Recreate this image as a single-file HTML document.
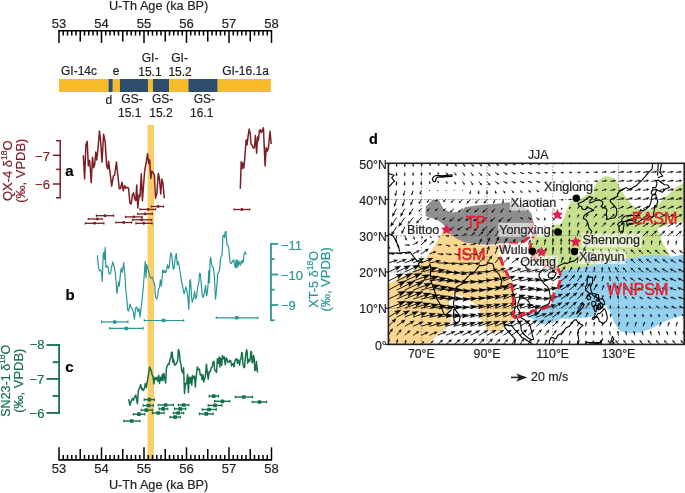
<!DOCTYPE html>
<html><head><meta charset="utf-8"><style>
html,body{margin:0;padding:0;background:#fff;width:685px;height:493px;overflow:hidden}
svg{display:block}

</style></head><body>
<svg width="685" height="493" viewBox="0 0 685 493">
<rect width="685" height="493" fill="#fff"/>
<g fill="#231f20" font-family="'Liberation Sans', Arial, sans-serif">
<rect x="147.6" y="124.9" width="6.4" height="335" fill="#f9cd68"/>
<line x1="58.3" y1="30.75" x2="271.9" y2="30.75" stroke="#000" stroke-width="1.5"/>
<line x1="59" y1="30.2" x2="59" y2="42.9" stroke="#000" stroke-width="1.5"/>
<line x1="63.25" y1="30.2" x2="63.25" y2="35.6" stroke="#000" stroke-width="1.5"/>
<line x1="67.5" y1="30.2" x2="67.5" y2="35.6" stroke="#000" stroke-width="1.5"/>
<line x1="71.75" y1="30.2" x2="71.75" y2="35.6" stroke="#000" stroke-width="1.5"/>
<line x1="76" y1="30.2" x2="76" y2="35.6" stroke="#000" stroke-width="1.5"/>
<line x1="80.25" y1="30.2" x2="80.25" y2="41.4" stroke="#000" stroke-width="1.5"/>
<line x1="84.5" y1="30.2" x2="84.5" y2="35.6" stroke="#000" stroke-width="1.5"/>
<line x1="88.75" y1="30.2" x2="88.75" y2="35.6" stroke="#000" stroke-width="1.5"/>
<line x1="93" y1="30.2" x2="93" y2="35.6" stroke="#000" stroke-width="1.5"/>
<line x1="97.25" y1="30.2" x2="97.25" y2="35.6" stroke="#000" stroke-width="1.5"/>
<line x1="101.5" y1="30.2" x2="101.5" y2="42.9" stroke="#000" stroke-width="1.5"/>
<line x1="105.75" y1="30.2" x2="105.75" y2="35.6" stroke="#000" stroke-width="1.5"/>
<line x1="110" y1="30.2" x2="110" y2="35.6" stroke="#000" stroke-width="1.5"/>
<line x1="114.25" y1="30.2" x2="114.25" y2="35.6" stroke="#000" stroke-width="1.5"/>
<line x1="118.5" y1="30.2" x2="118.5" y2="35.6" stroke="#000" stroke-width="1.5"/>
<line x1="122.75" y1="30.2" x2="122.75" y2="41.4" stroke="#000" stroke-width="1.5"/>
<line x1="127" y1="30.2" x2="127" y2="35.6" stroke="#000" stroke-width="1.5"/>
<line x1="131.25" y1="30.2" x2="131.25" y2="35.6" stroke="#000" stroke-width="1.5"/>
<line x1="135.5" y1="30.2" x2="135.5" y2="35.6" stroke="#000" stroke-width="1.5"/>
<line x1="139.75" y1="30.2" x2="139.75" y2="35.6" stroke="#000" stroke-width="1.5"/>
<line x1="144" y1="30.2" x2="144" y2="42.9" stroke="#000" stroke-width="1.5"/>
<line x1="148.25" y1="30.2" x2="148.25" y2="35.6" stroke="#000" stroke-width="1.5"/>
<line x1="152.5" y1="30.2" x2="152.5" y2="35.6" stroke="#000" stroke-width="1.5"/>
<line x1="156.75" y1="30.2" x2="156.75" y2="35.6" stroke="#000" stroke-width="1.5"/>
<line x1="161" y1="30.2" x2="161" y2="35.6" stroke="#000" stroke-width="1.5"/>
<line x1="165.25" y1="30.2" x2="165.25" y2="41.4" stroke="#000" stroke-width="1.5"/>
<line x1="169.5" y1="30.2" x2="169.5" y2="35.6" stroke="#000" stroke-width="1.5"/>
<line x1="173.75" y1="30.2" x2="173.75" y2="35.6" stroke="#000" stroke-width="1.5"/>
<line x1="178" y1="30.2" x2="178" y2="35.6" stroke="#000" stroke-width="1.5"/>
<line x1="182.25" y1="30.2" x2="182.25" y2="35.6" stroke="#000" stroke-width="1.5"/>
<line x1="186.5" y1="30.2" x2="186.5" y2="42.9" stroke="#000" stroke-width="1.5"/>
<line x1="190.75" y1="30.2" x2="190.75" y2="35.6" stroke="#000" stroke-width="1.5"/>
<line x1="195" y1="30.2" x2="195" y2="35.6" stroke="#000" stroke-width="1.5"/>
<line x1="199.25" y1="30.2" x2="199.25" y2="35.6" stroke="#000" stroke-width="1.5"/>
<line x1="203.5" y1="30.2" x2="203.5" y2="35.6" stroke="#000" stroke-width="1.5"/>
<line x1="207.75" y1="30.2" x2="207.75" y2="41.4" stroke="#000" stroke-width="1.5"/>
<line x1="212" y1="30.2" x2="212" y2="35.6" stroke="#000" stroke-width="1.5"/>
<line x1="216.25" y1="30.2" x2="216.25" y2="35.6" stroke="#000" stroke-width="1.5"/>
<line x1="220.5" y1="30.2" x2="220.5" y2="35.6" stroke="#000" stroke-width="1.5"/>
<line x1="224.75" y1="30.2" x2="224.75" y2="35.6" stroke="#000" stroke-width="1.5"/>
<line x1="229" y1="30.2" x2="229" y2="42.9" stroke="#000" stroke-width="1.5"/>
<line x1="233.25" y1="30.2" x2="233.25" y2="35.6" stroke="#000" stroke-width="1.5"/>
<line x1="237.5" y1="30.2" x2="237.5" y2="35.6" stroke="#000" stroke-width="1.5"/>
<line x1="241.75" y1="30.2" x2="241.75" y2="35.6" stroke="#000" stroke-width="1.5"/>
<line x1="246" y1="30.2" x2="246" y2="35.6" stroke="#000" stroke-width="1.5"/>
<line x1="250.25" y1="30.2" x2="250.25" y2="41.4" stroke="#000" stroke-width="1.5"/>
<line x1="254.5" y1="30.2" x2="254.5" y2="35.6" stroke="#000" stroke-width="1.5"/>
<line x1="258.75" y1="30.2" x2="258.75" y2="35.6" stroke="#000" stroke-width="1.5"/>
<line x1="263" y1="30.2" x2="263" y2="35.6" stroke="#000" stroke-width="1.5"/>
<line x1="267.25" y1="30.2" x2="267.25" y2="35.6" stroke="#000" stroke-width="1.5"/>
<line x1="271.5" y1="30.2" x2="271.5" y2="42.9" stroke="#000" stroke-width="1.5"/>
<text x="59" y="27.7" font-size="13" text-anchor="middle" stroke="#231f20" stroke-width="0.2">53</text>
<text x="101.5" y="27.7" font-size="13" text-anchor="middle" stroke="#231f20" stroke-width="0.2">54</text>
<text x="144" y="27.7" font-size="13" text-anchor="middle" stroke="#231f20" stroke-width="0.2">55</text>
<text x="186.5" y="27.7" font-size="13" text-anchor="middle" stroke="#231f20" stroke-width="0.2">56</text>
<text x="229" y="27.7" font-size="13" text-anchor="middle" stroke="#231f20" stroke-width="0.2">57</text>
<text x="271.5" y="27.7" font-size="13" text-anchor="middle" stroke="#231f20" stroke-width="0.2">58</text>
<text x="158.6" y="9.5" font-size="12.7" text-anchor="middle" stroke="#231f20" stroke-width="0.2">U-Th Age (ka BP)</text>
<line x1="58.3" y1="459.8" x2="271.9" y2="459.8" stroke="#000" stroke-width="1.7"/>
<line x1="59" y1="460.3" x2="59" y2="447.3" stroke="#000" stroke-width="1.5"/>
<line x1="63.25" y1="460.3" x2="63.25" y2="454.9" stroke="#000" stroke-width="1.5"/>
<line x1="67.5" y1="460.3" x2="67.5" y2="454.9" stroke="#000" stroke-width="1.5"/>
<line x1="71.75" y1="460.3" x2="71.75" y2="454.9" stroke="#000" stroke-width="1.5"/>
<line x1="76" y1="460.3" x2="76" y2="454.9" stroke="#000" stroke-width="1.5"/>
<line x1="80.25" y1="460.3" x2="80.25" y2="449.1" stroke="#000" stroke-width="1.5"/>
<line x1="84.5" y1="460.3" x2="84.5" y2="454.9" stroke="#000" stroke-width="1.5"/>
<line x1="88.75" y1="460.3" x2="88.75" y2="454.9" stroke="#000" stroke-width="1.5"/>
<line x1="93" y1="460.3" x2="93" y2="454.9" stroke="#000" stroke-width="1.5"/>
<line x1="97.25" y1="460.3" x2="97.25" y2="454.9" stroke="#000" stroke-width="1.5"/>
<line x1="101.5" y1="460.3" x2="101.5" y2="447.3" stroke="#000" stroke-width="1.5"/>
<line x1="105.75" y1="460.3" x2="105.75" y2="454.9" stroke="#000" stroke-width="1.5"/>
<line x1="110" y1="460.3" x2="110" y2="454.9" stroke="#000" stroke-width="1.5"/>
<line x1="114.25" y1="460.3" x2="114.25" y2="454.9" stroke="#000" stroke-width="1.5"/>
<line x1="118.5" y1="460.3" x2="118.5" y2="454.9" stroke="#000" stroke-width="1.5"/>
<line x1="122.75" y1="460.3" x2="122.75" y2="449.1" stroke="#000" stroke-width="1.5"/>
<line x1="127" y1="460.3" x2="127" y2="454.9" stroke="#000" stroke-width="1.5"/>
<line x1="131.25" y1="460.3" x2="131.25" y2="454.9" stroke="#000" stroke-width="1.5"/>
<line x1="135.5" y1="460.3" x2="135.5" y2="454.9" stroke="#000" stroke-width="1.5"/>
<line x1="139.75" y1="460.3" x2="139.75" y2="454.9" stroke="#000" stroke-width="1.5"/>
<line x1="144" y1="460.3" x2="144" y2="447.3" stroke="#000" stroke-width="1.5"/>
<line x1="148.25" y1="460.3" x2="148.25" y2="454.9" stroke="#000" stroke-width="1.5"/>
<line x1="152.5" y1="460.3" x2="152.5" y2="454.9" stroke="#000" stroke-width="1.5"/>
<line x1="156.75" y1="460.3" x2="156.75" y2="454.9" stroke="#000" stroke-width="1.5"/>
<line x1="161" y1="460.3" x2="161" y2="454.9" stroke="#000" stroke-width="1.5"/>
<line x1="165.25" y1="460.3" x2="165.25" y2="449.1" stroke="#000" stroke-width="1.5"/>
<line x1="169.5" y1="460.3" x2="169.5" y2="454.9" stroke="#000" stroke-width="1.5"/>
<line x1="173.75" y1="460.3" x2="173.75" y2="454.9" stroke="#000" stroke-width="1.5"/>
<line x1="178" y1="460.3" x2="178" y2="454.9" stroke="#000" stroke-width="1.5"/>
<line x1="182.25" y1="460.3" x2="182.25" y2="454.9" stroke="#000" stroke-width="1.5"/>
<line x1="186.5" y1="460.3" x2="186.5" y2="447.3" stroke="#000" stroke-width="1.5"/>
<line x1="190.75" y1="460.3" x2="190.75" y2="454.9" stroke="#000" stroke-width="1.5"/>
<line x1="195" y1="460.3" x2="195" y2="454.9" stroke="#000" stroke-width="1.5"/>
<line x1="199.25" y1="460.3" x2="199.25" y2="454.9" stroke="#000" stroke-width="1.5"/>
<line x1="203.5" y1="460.3" x2="203.5" y2="454.9" stroke="#000" stroke-width="1.5"/>
<line x1="207.75" y1="460.3" x2="207.75" y2="449.1" stroke="#000" stroke-width="1.5"/>
<line x1="212" y1="460.3" x2="212" y2="454.9" stroke="#000" stroke-width="1.5"/>
<line x1="216.25" y1="460.3" x2="216.25" y2="454.9" stroke="#000" stroke-width="1.5"/>
<line x1="220.5" y1="460.3" x2="220.5" y2="454.9" stroke="#000" stroke-width="1.5"/>
<line x1="224.75" y1="460.3" x2="224.75" y2="454.9" stroke="#000" stroke-width="1.5"/>
<line x1="229" y1="460.3" x2="229" y2="447.3" stroke="#000" stroke-width="1.5"/>
<line x1="233.25" y1="460.3" x2="233.25" y2="454.9" stroke="#000" stroke-width="1.5"/>
<line x1="237.5" y1="460.3" x2="237.5" y2="454.9" stroke="#000" stroke-width="1.5"/>
<line x1="241.75" y1="460.3" x2="241.75" y2="454.9" stroke="#000" stroke-width="1.5"/>
<line x1="246" y1="460.3" x2="246" y2="454.9" stroke="#000" stroke-width="1.5"/>
<line x1="250.25" y1="460.3" x2="250.25" y2="449.1" stroke="#000" stroke-width="1.5"/>
<line x1="254.5" y1="460.3" x2="254.5" y2="454.9" stroke="#000" stroke-width="1.5"/>
<line x1="258.75" y1="460.3" x2="258.75" y2="454.9" stroke="#000" stroke-width="1.5"/>
<line x1="263" y1="460.3" x2="263" y2="454.9" stroke="#000" stroke-width="1.5"/>
<line x1="267.25" y1="460.3" x2="267.25" y2="454.9" stroke="#000" stroke-width="1.5"/>
<line x1="271.5" y1="460.3" x2="271.5" y2="447.3" stroke="#000" stroke-width="1.5"/>
<text x="59" y="473" font-size="13" text-anchor="middle" stroke="#231f20" stroke-width="0.2">53</text>
<text x="101.5" y="473" font-size="13" text-anchor="middle" stroke="#231f20" stroke-width="0.2">54</text>
<text x="144" y="473" font-size="13" text-anchor="middle" stroke="#231f20" stroke-width="0.2">55</text>
<text x="186.5" y="473" font-size="13" text-anchor="middle" stroke="#231f20" stroke-width="0.2">56</text>
<text x="229" y="473" font-size="13" text-anchor="middle" stroke="#231f20" stroke-width="0.2">57</text>
<text x="271.5" y="473" font-size="13" text-anchor="middle" stroke="#231f20" stroke-width="0.2">58</text>
<text x="158.6" y="489.3" font-size="12.7" text-anchor="middle" stroke="#231f20" stroke-width="0.2">U-Th Age (ka BP)</text>
<rect x="59" y="79" width="49.5" height="13" fill="#f8bb28"/>
<rect x="108.5" y="79" width="4.3" height="13" fill="#2f4e6e"/>
<rect x="112.8" y="79" width="7.1" height="13" fill="#f8bb28"/>
<rect x="119.9" y="79" width="28.3" height="13" fill="#2f4e6e"/>
<rect x="148.2" y="79" width="4.7" height="13" fill="#f8bb28"/>
<rect x="152.9" y="79" width="16.3" height="13" fill="#2f4e6e"/>
<rect x="169.2" y="79" width="19.2" height="13" fill="#f8bb28"/>
<rect x="188.4" y="79" width="29.3" height="13" fill="#2f4e6e"/>
<rect x="217.7" y="79" width="53.2" height="13" fill="#f8bb28"/>
<text x="79.0" y="75.2" font-size="12" text-anchor="middle" stroke="#231f20" stroke-width="0.2">GI-14c</text>
<text x="116.0" y="75.2" font-size="12" text-anchor="middle" stroke="#231f20" stroke-width="0.2">e</text>
<text x="150.1" y="62" font-size="12" text-anchor="middle" stroke="#231f20" stroke-width="0.2">GI-</text>
<text x="149.9" y="76.3" font-size="12" text-anchor="middle" stroke="#231f20" stroke-width="0.2">15.1</text>
<text x="179.6" y="62" font-size="12" text-anchor="middle" stroke="#231f20" stroke-width="0.2">GI-</text>
<text x="180.1" y="76.3" font-size="12" text-anchor="middle" stroke="#231f20" stroke-width="0.2">15.2</text>
<text x="245.5" y="74.9" font-size="12" text-anchor="middle" stroke="#231f20" stroke-width="0.2">GI-16.1a</text>
<text x="108.9" y="104.2" font-size="12" text-anchor="middle" stroke="#231f20" stroke-width="0.2">d</text>
<text x="132.0" y="103" font-size="12" text-anchor="middle" stroke="#231f20" stroke-width="0.2">GS-</text>
<text x="129.7" y="116.9" font-size="12" text-anchor="middle" stroke="#231f20" stroke-width="0.2">15.1</text>
<text x="162.7" y="103" font-size="12" text-anchor="middle" stroke="#231f20" stroke-width="0.2">GS-</text>
<text x="160.9" y="116.9" font-size="12" text-anchor="middle" stroke="#231f20" stroke-width="0.2">15.2</text>
<text x="204.3" y="103" font-size="12" text-anchor="middle" stroke="#231f20" stroke-width="0.2">GS-</text>
<text x="201.8" y="116.9" font-size="12" text-anchor="middle" stroke="#231f20" stroke-width="0.2">16.1</text>
<line x1="60.2" y1="140.7" x2="60.2" y2="197.8" stroke="#7b1e24" stroke-width="1.5"/>
<line x1="56.1" y1="140.7" x2="60.9" y2="140.7" stroke="#7b1e24" stroke-width="1.5"/>
<line x1="52.9" y1="155.3" x2="60.9" y2="155.3" stroke="#7b1e24" stroke-width="1.5"/>
<line x1="56.1" y1="169.4" x2="60.9" y2="169.4" stroke="#7b1e24" stroke-width="1.5"/>
<line x1="52.9" y1="184" x2="60.9" y2="184" stroke="#7b1e24" stroke-width="1.5"/>
<line x1="56.1" y1="197.8" x2="60.9" y2="197.8" stroke="#7b1e24" stroke-width="1.5"/>
<text x="49.9" y="160.7" font-size="13" fill="#7b1e24" text-anchor="end" stroke="#7b1e24" stroke-width="0.2">−7</text>
<text x="49.9" y="189.4" font-size="13" fill="#7b1e24" text-anchor="end" stroke="#7b1e24" stroke-width="0.2">−6</text>
<text transform="translate(11.9,170.7) rotate(-90)" font-size="13" fill="#7b1e24" text-anchor="middle" stroke="#7b1e24" stroke-width="0.2">QX-4 δ<tspan font-size="8.5" dy="-4.8">18</tspan><tspan dy="4.8">O</tspan></text>
<text transform="translate(24.8,170.7) rotate(-90)" font-size="13" fill="#7b1e24" text-anchor="middle" stroke="#7b1e24" stroke-width="0.2">(‰, VPDB)</text>
<text x="65.2" y="175.5" font-size="15" font-weight="bold" fill="#000" stroke="#000" stroke-width="0.2">a</text>
<path d="M83.3,155.3 L84.6,178.9 L85.9,144.7 L87.2,141.4 L88.3,165.8 L89.6,160.3 L91.2,182.6 L92.5,157.2 L93.6,167.8 L94.7,164.5 L95.8,152 L96.7,159.9 L97.8,150.7 L99.5,130.9 L100.7,142.1 L102,162.3 L103.6,134.3 L105.2,142.2 L106.6,165.5 L107.8,169 L108.6,161.2 L111.7,186.2 L113.4,175.9 L114.7,175 L116.4,162 L119.3,188.8 L120.5,188.5 L122,182.2 L123.3,190.8 L124.6,185.5 L125.9,188.2 L127.2,187.5 L128.6,188.2 L129.9,203.3 L131.2,204 L132.5,194.7 L133.6,192.8 L134.7,198.7 L135.8,200.7 L136.7,184.9 L137.8,207.9 L139.1,194.7 L140,196.7 L141.3,173.7 L142.4,200.7 L143.4,187.5 L144.7,170.5 L146.1,163 L147.5,153.8 L148.7,163.5 L149.7,160 L150.8,178.4 L151.8,171.3 L153.2,172.7 L154.4,175.5 L155.5,198.3 L156.9,193.3 L158.3,173.4 L159.3,177.7 L160.8,194 L161.8,179.1 L162.9,182.6 L164.3,198.3" fill="none" stroke="#7b1e24" stroke-width="1.5" stroke-linejoin="round"/>
<path d="M240.3,188.7 L241.2,161.7 L242,168.8 L242.8,163.1 L243.8,168.1 L244.8,157.5 L246.2,139.7 L247.1,144.7 L248.1,136.2 L249.2,129.1 L250.2,133.3 L251,144 L252.3,145.4 L253.3,148.2 L254.4,147.5 L255.4,135.5 L256.6,153.2 L257.6,136.9 L258.4,140.4 L259.4,130.5 L260.4,129.8 L261.2,132.6 L262.2,131.2 L263.4,127.7 L265.1,166 L266.2,147.5 L267.2,151.1 L268.3,149 L270,131.2 L271.2,144" fill="none" stroke="#7b1e24" stroke-width="1.5" stroke-linejoin="round"/>
<line x1="96.4" y1="215.7" x2="113.6" y2="215.7" stroke="#7b1e24" stroke-width="1.3"/>
<line x1="96.4" y1="214.6" x2="96.4" y2="216.79999999999998" stroke="#7b1e24" stroke-width="1.2"/>
<line x1="113.6" y1="214.6" x2="113.6" y2="216.79999999999998" stroke="#7b1e24" stroke-width="1.2"/>
<circle cx="105" cy="215.7" r="1.45" fill="#7b1e24"/>
<line x1="88.3" y1="219" x2="102.2" y2="219" stroke="#7b1e24" stroke-width="1.3"/>
<line x1="88.3" y1="217.9" x2="88.3" y2="220.1" stroke="#7b1e24" stroke-width="1.2"/>
<line x1="102.2" y1="217.9" x2="102.2" y2="220.1" stroke="#7b1e24" stroke-width="1.2"/>
<circle cx="97.3" cy="219" r="1.45" fill="#7b1e24"/>
<line x1="85.3" y1="223.3" x2="103.9" y2="223.3" stroke="#7b1e24" stroke-width="1.3"/>
<line x1="85.3" y1="222.20000000000002" x2="85.3" y2="224.4" stroke="#7b1e24" stroke-width="1.2"/>
<line x1="103.9" y1="222.20000000000002" x2="103.9" y2="224.4" stroke="#7b1e24" stroke-width="1.2"/>
<circle cx="94.6" cy="223.3" r="1.45" fill="#7b1e24"/>
<line x1="151.4" y1="206.5" x2="163.6" y2="206.5" stroke="#7b1e24" stroke-width="1.3"/>
<line x1="151.4" y1="205.4" x2="151.4" y2="207.6" stroke="#7b1e24" stroke-width="1.2"/>
<line x1="163.6" y1="205.4" x2="163.6" y2="207.6" stroke="#7b1e24" stroke-width="1.2"/>
<circle cx="158.1" cy="206.5" r="1.45" fill="#7b1e24"/>
<line x1="139.9" y1="209.4" x2="155.6" y2="209.4" stroke="#7b1e24" stroke-width="1.3"/>
<line x1="139.9" y1="208.3" x2="139.9" y2="210.5" stroke="#7b1e24" stroke-width="1.2"/>
<line x1="155.6" y1="208.3" x2="155.6" y2="210.5" stroke="#7b1e24" stroke-width="1.2"/>
<circle cx="148" cy="209.4" r="1.45" fill="#7b1e24"/>
<line x1="137.6" y1="213.9" x2="152.4" y2="213.9" stroke="#7b1e24" stroke-width="1.3"/>
<line x1="137.6" y1="212.8" x2="137.6" y2="215.0" stroke="#7b1e24" stroke-width="1.2"/>
<line x1="152.4" y1="212.8" x2="152.4" y2="215.0" stroke="#7b1e24" stroke-width="1.2"/>
<circle cx="145.2" cy="213.9" r="1.45" fill="#7b1e24"/>
<line x1="125.4" y1="216.9" x2="142.1" y2="216.9" stroke="#7b1e24" stroke-width="1.3"/>
<line x1="125.4" y1="215.8" x2="125.4" y2="218.0" stroke="#7b1e24" stroke-width="1.2"/>
<line x1="142.1" y1="215.8" x2="142.1" y2="218.0" stroke="#7b1e24" stroke-width="1.2"/>
<circle cx="133.8" cy="216.9" r="1.45" fill="#7b1e24"/>
<line x1="132.4" y1="219.8" x2="151.7" y2="219.8" stroke="#7b1e24" stroke-width="1.3"/>
<line x1="132.4" y1="218.70000000000002" x2="132.4" y2="220.9" stroke="#7b1e24" stroke-width="1.2"/>
<line x1="151.7" y1="218.70000000000002" x2="151.7" y2="220.9" stroke="#7b1e24" stroke-width="1.2"/>
<circle cx="141.7" cy="219.8" r="1.45" fill="#7b1e24"/>
<line x1="115.8" y1="222.5" x2="131.6" y2="222.5" stroke="#7b1e24" stroke-width="1.3"/>
<line x1="115.8" y1="221.4" x2="115.8" y2="223.6" stroke="#7b1e24" stroke-width="1.2"/>
<line x1="131.6" y1="221.4" x2="131.6" y2="223.6" stroke="#7b1e24" stroke-width="1.2"/>
<circle cx="123.7" cy="222.5" r="1.45" fill="#7b1e24"/>
<line x1="135.9" y1="223.3" x2="152.1" y2="223.3" stroke="#7b1e24" stroke-width="1.3"/>
<line x1="135.9" y1="222.20000000000002" x2="135.9" y2="224.4" stroke="#7b1e24" stroke-width="1.2"/>
<line x1="152.1" y1="222.20000000000002" x2="152.1" y2="224.4" stroke="#7b1e24" stroke-width="1.2"/>
<circle cx="143.8" cy="223.3" r="1.45" fill="#7b1e24"/>
<line x1="234" y1="209.5" x2="249.9" y2="209.5" stroke="#7b1e24" stroke-width="1.3"/>
<line x1="234" y1="208.4" x2="234" y2="210.6" stroke="#7b1e24" stroke-width="1.2"/>
<line x1="249.9" y1="208.4" x2="249.9" y2="210.6" stroke="#7b1e24" stroke-width="1.2"/>
<circle cx="241.9" cy="209.5" r="1.45" fill="#7b1e24"/>
<line x1="271" y1="243.8" x2="271" y2="320.3" stroke="#2a9797" stroke-width="1.8"/>
<line x1="270.2" y1="243.8" x2="278.2" y2="243.8" stroke="#2a9797" stroke-width="1.8"/>
<line x1="270.2" y1="259.1" x2="274.5" y2="259.1" stroke="#2a9797" stroke-width="1.8"/>
<line x1="270.2" y1="274.5" x2="278.2" y2="274.5" stroke="#2a9797" stroke-width="1.8"/>
<line x1="270.2" y1="289.7" x2="274.5" y2="289.7" stroke="#2a9797" stroke-width="1.8"/>
<line x1="270.2" y1="305" x2="278.2" y2="305" stroke="#2a9797" stroke-width="1.8"/>
<line x1="270.2" y1="320.3" x2="274.5" y2="320.3" stroke="#2a9797" stroke-width="1.8"/>
<text x="281.0" y="249.7" font-size="13" fill="#2a9797" stroke="#2a9797" stroke-width="0.2">−11</text>
<text x="281.0" y="279.9" font-size="13" fill="#2a9797" stroke="#2a9797" stroke-width="0.2">−10</text>
<text x="281.0" y="310.2" font-size="13" fill="#2a9797" stroke="#2a9797" stroke-width="0.2">−9</text>
<text transform="translate(317.6,279.3) rotate(-90)" font-size="12.7" fill="#2a9797" text-anchor="middle" stroke="#2a9797" stroke-width="0.2">XT-5 δ<tspan font-size="8.5" dy="-4.8">18</tspan><tspan dy="4.8">O</tspan></text>
<text transform="translate(330.4,279.3) rotate(-90)" font-size="13" fill="#2a9797" text-anchor="middle" stroke="#2a9797" stroke-width="0.2">(‰, VPDB)</text>
<text x="65.4" y="299.8" font-size="15" font-weight="bold" fill="#000" stroke="#000" stroke-width="0.2">b</text>
<path d="M97.4,255.4 L98.6,268.4 L99.5,270.8 L100.7,270 L101.5,272.4 L102.3,281.3 L103.1,254.6 L103.9,252.2 L104.4,259.4 L105.2,247.3 L105.9,267.6 L106.8,265.9 L108,266.7 L109.1,274 L110.4,274 L111.5,267.6 L112.8,261.9 L114.1,266.7 L115.3,272.4 L116.9,293.5 L118.5,282.1 L119.3,286.2 L120.6,271.6 L121.3,268.4 L122.2,272.4 L123.8,262.7 L125,275.7 L125.8,290 L126.8,298.7 L127.7,310.1 L128.8,310.9 L129.9,304 L131.1,307.8 L132.3,308.6 L133.4,312.4 L134.4,319.3 L135.7,307.8 L136.9,307.1 L137.9,311.6 L139,308.6 L139.9,317 L141.7,303.3 L143.3,287.3 L144.5,271.3 L145.2,261.4 L146,277.4 L146.6,264.5 L147.8,268.3 L149,272.8 L150.1,276.6 L151.2,278.2 L152.4,277.4 L153.5,281.2 L154.7,285 L155.4,295.7 L156.4,299.2 L157.4,297.8 L158.5,289 L159.5,287.6 L160.4,279.8 L161.4,286.1 L162.8,269.8 L163.8,272.7 L164.6,270.5 L165.6,272.7 L166.3,271.2 L167.5,264.9 L168.5,268.4 L169.2,267 L170.6,252.8 L171.7,254.9 L173.2,269.1 L174.1,268.4 L175.1,258.5 L176.3,253.5 L177.3,264.9 L178.1,261.3 L179.1,265.6 L180.2,272.7 L181.7,281.9 L183.1,289 L184.1,293.9 L185.1,290.4 L185.9,286.8 L186.9,290.4 L187.9,297.5 L188.8,309.5 L189.8,281.2 L190.5,279.5 L191.5,296.2 L192.2,302.3 L193.4,298.6 L194.6,291.3 L195.5,298.6 L196.3,298 L197.5,288.9 L198.8,282.2 L199.7,273.1 L200.3,273.7 L201.6,287.7 L202.4,296.8 L203.4,296.8 L204.6,291.9 L205.6,285.3 L206.4,295.6 L207,295 L208.2,283.4 L208.8,270.7 L209.5,282.8 L210.1,260.9 L210.7,257.3 L211.6,264.6 L212.5,267 L213.3,267.6 L214.3,275.5 L215.5,299.2 L216.5,290.1 L217.7,274.3 L218.9,271.9 L219.6,269.6 L220.6,258.5 L221.3,256.4 L222.1,255.4 L222.9,235.7 L223.9,235.1 L224.6,237.7 L225.1,232.1 L226,231.6 L226.4,237.7 L227,244.8 L227.7,245.3 L228.7,247.8 L229.4,255.4 L230.2,262.5 L231.2,263.6 L232.4,261.5 L233.8,260 L234.8,265.6 L235.3,267.6 L236.1,260 L236.8,267.6 L237.3,260 L238.1,266.1 L238.8,261 L239.6,263.6 L240.4,265.1 L241.2,261 L241.9,263 L242.6,260.5 L243.2,262.5 L243.9,254.9 L244.9,251.9 L245.9,253.9 L246.7,254.4" fill="none" stroke="#2a9797" stroke-width="1.2" stroke-linejoin="round"/>
<line x1="101.6" y1="321.9" x2="127.9" y2="321.9" stroke="#2a9797" stroke-width="1.2"/>
<line x1="101.6" y1="320.59999999999997" x2="101.6" y2="323.2" stroke="#2a9797" stroke-width="1.2"/>
<line x1="127.9" y1="320.59999999999997" x2="127.9" y2="323.2" stroke="#2a9797" stroke-width="1.2"/>
<rect x="112.95" y="320.15" width="3.5" height="3.5" rx="0.6" fill="#2a9797"/>
<line x1="109.7" y1="328.4" x2="143" y2="328.4" stroke="#2a9797" stroke-width="1.2"/>
<line x1="109.7" y1="327.09999999999997" x2="109.7" y2="329.7" stroke="#2a9797" stroke-width="1.2"/>
<line x1="143" y1="327.09999999999997" x2="143" y2="329.7" stroke="#2a9797" stroke-width="1.2"/>
<rect x="124.55" y="326.65" width="3.5" height="3.5" rx="0.6" fill="#2a9797"/>
<line x1="144.3" y1="320.5" x2="183.7" y2="320.5" stroke="#2a9797" stroke-width="1.2"/>
<line x1="144.3" y1="319.2" x2="144.3" y2="321.8" stroke="#2a9797" stroke-width="1.2"/>
<line x1="183.7" y1="319.2" x2="183.7" y2="321.8" stroke="#2a9797" stroke-width="1.2"/>
<rect x="161.85" y="318.75" width="3.5" height="3.5" rx="0.6" fill="#2a9797"/>
<line x1="216.3" y1="317.8" x2="257.8" y2="317.8" stroke="#2a9797" stroke-width="1.2"/>
<line x1="216.3" y1="316.5" x2="216.3" y2="319.1" stroke="#2a9797" stroke-width="1.2"/>
<line x1="257.8" y1="316.5" x2="257.8" y2="319.1" stroke="#2a9797" stroke-width="1.2"/>
<rect x="235.05" y="316.05" width="3.5" height="3.5" rx="0.6" fill="#2a9797"/>
<line x1="59.1" y1="344.3" x2="59.1" y2="413.6" stroke="#16704a" stroke-width="1.8"/>
<line x1="46.5" y1="345" x2="60" y2="345" stroke="#16704a" stroke-width="1.8"/>
<line x1="52.6" y1="362.2" x2="60" y2="362.2" stroke="#16704a" stroke-width="1.8"/>
<line x1="46.5" y1="378.9" x2="60" y2="378.9" stroke="#16704a" stroke-width="1.8"/>
<line x1="52.6" y1="395.9" x2="60" y2="395.9" stroke="#16704a" stroke-width="1.8"/>
<line x1="46.5" y1="412.9" x2="60" y2="412.9" stroke="#16704a" stroke-width="1.8"/>
<text x="44.5" y="348.9" font-size="13" fill="#16704a" text-anchor="end" stroke="#16704a" stroke-width="0.2">−8</text>
<text x="44.3" y="383.5" font-size="13" fill="#16704a" text-anchor="end" stroke="#16704a" stroke-width="0.2">−7</text>
<text x="44.4" y="418.3" font-size="13" fill="#16704a" text-anchor="end" stroke="#16704a" stroke-width="0.2">−6</text>
<text transform="translate(10.0,380.7) rotate(-90)" font-size="12.5" fill="#16704a" text-anchor="middle" stroke="#16704a" stroke-width="0.2">SN23-1 δ<tspan font-size="8.5" dy="-4.8">18</tspan><tspan dy="4.8">O</tspan></text>
<text transform="translate(23,380.7) rotate(-90)" font-size="13" fill="#16704a" text-anchor="middle" stroke="#16704a" stroke-width="0.2">(‰, VPDB)</text>
<text x="65.2" y="371.8" font-size="15" font-weight="bold" fill="#000" stroke="#000" stroke-width="0.2">c</text>
<path d="M128.6,399.1 L129.9,405.2 L131.1,401.6 L132.3,398.6 L133.3,400.1 L134.3,397.6 L135.7,395 L136.4,398.6 L137.4,403.7 L138.4,390.5 L139.4,388.4 L140.7,384.4 L141.8,389.4 L142.5,388.4 L143.3,390.5 L144.5,388.4 L145.3,383.4 L146.3,387.4 L147.5,380.3 L148.6,374.2 L149.6,367.1 L150.4,369.1 L151.2,370.2 L151.9,374.2 L152.9,376.2 L153.9,383.9 L154.9,377.3 L156,379.8 L157,377.3 L158,381.3 L158.7,375.2 L159.5,383.4 L160.5,377.3 L161.5,380.3 L162.3,374.5 L162.8,380.7 L163.9,373.4 L164.7,378.4 L165.6,382.9 L166.5,367.8 L167.6,365.1 L168.4,363.9 L169.1,364.5 L170,358.9 L170.8,358.4 L171.5,352.2 L172.3,352.2 L172.8,362.3 L173.6,359.5 L174.5,365.1 L175.6,364.5 L176.7,362.8 L177.6,360.6 L178.4,349.5 L179.2,351.7 L180.1,360.6 L180.9,364.5 L181.7,370.6 L182.8,372.9 L183.6,367.8 L184.5,393.5 L185.4,383.4 L186.5,384 L187.6,374.5 L188.4,392.4 L189.2,377.3 L190.1,382.9 L191,377.3 L191.8,385.1 L192.5,375.6 L193.4,378.4 L194.5,376.2 L195.3,387 L195.9,379.7 L197.3,366.9 L198.5,369.7 L199.4,369.2 L200.3,375.1 L201.2,374.2 L202.1,379.7 L203,374.7 L203.7,382 L204.6,378.8 L205.5,375.1 L206.4,364.2 L207.3,372.4 L208.2,379.2 L209.2,371.5 L210.1,371.9 L211.3,367.8 L212.2,366.9 L213.1,361.9 L214,361.4 L214.6,369.7 L215.5,370.6 L216.5,372.4 L217.4,358.7 L218.3,363.3 L219.2,356.9 L219.8,366.9 L220.8,358.2 L221.7,365.5 L222.4,355.5 L223.3,358.7 L224.2,356.9 L225.3,364.6 L226.2,357.8 L227.1,359.6 L228.1,362.4 L229.2,361.9 L230,360.3 L230.8,361.1 L231.6,366 L232.4,364.4 L233.2,363.6 L234.1,366.8 L234.9,361.1 L235.8,359.1 L236.7,358.7 L237.5,363.2 L238.3,359.9 L239.1,362.7 L239.6,365.2 L240.2,359.9 L241,358.7 L241.8,352.6 L242.3,353 L243,364.4 L243.8,367.2 L244.5,367.6 L245,361.9 L245.8,354.2 L246.7,349.7 L247.2,352.2 L247.7,363.2 L248.5,359.5 L249.3,361.5 L250.1,359.9 L251,351.4 L251.5,351.8 L252.1,362.7 L252.7,361.9 L253.6,355.4 L254.2,358.7 L254.8,370.5 L255.6,370.1 L256.4,361.5 L257.2,369.2 L257.6,372.5" fill="none" stroke="#16704a" stroke-width="1.5" stroke-linejoin="round"/>
<line x1="144.2" y1="399.6" x2="154.5" y2="399.6" stroke="#16704a" stroke-width="1.4"/>
<line x1="144.2" y1="398.3" x2="144.2" y2="400.90000000000003" stroke="#16704a" stroke-width="1.2"/>
<line x1="154.5" y1="398.3" x2="154.5" y2="400.90000000000003" stroke="#16704a" stroke-width="1.2"/>
<rect x="147.35" y="397.75" width="3.7" height="3.7" rx="0.6" fill="#16704a"/>
<line x1="143.3" y1="405.5" x2="153.5" y2="405.5" stroke="#16704a" stroke-width="1.4"/>
<line x1="143.3" y1="404.2" x2="143.3" y2="406.8" stroke="#16704a" stroke-width="1.2"/>
<line x1="153.5" y1="404.2" x2="153.5" y2="406.8" stroke="#16704a" stroke-width="1.2"/>
<rect x="146.65" y="403.65" width="3.7" height="3.7" rx="0.6" fill="#16704a"/>
<line x1="141.3" y1="410.1" x2="152.4" y2="410.1" stroke="#16704a" stroke-width="1.4"/>
<line x1="141.3" y1="408.8" x2="141.3" y2="411.40000000000003" stroke="#16704a" stroke-width="1.2"/>
<line x1="152.4" y1="408.8" x2="152.4" y2="411.40000000000003" stroke="#16704a" stroke-width="1.2"/>
<rect x="144.45000000000002" y="408.25" width="3.7" height="3.7" rx="0.6" fill="#16704a"/>
<line x1="133.3" y1="414.2" x2="144.8" y2="414.2" stroke="#16704a" stroke-width="1.4"/>
<line x1="133.3" y1="412.9" x2="133.3" y2="415.5" stroke="#16704a" stroke-width="1.2"/>
<line x1="144.8" y1="412.9" x2="144.8" y2="415.5" stroke="#16704a" stroke-width="1.2"/>
<rect x="137.05" y="412.34999999999997" width="3.7" height="3.7" rx="0.6" fill="#16704a"/>
<line x1="123.8" y1="421" x2="139.9" y2="421" stroke="#16704a" stroke-width="1.4"/>
<line x1="123.8" y1="419.7" x2="123.8" y2="422.3" stroke="#16704a" stroke-width="1.2"/>
<line x1="139.9" y1="419.7" x2="139.9" y2="422.3" stroke="#16704a" stroke-width="1.2"/>
<rect x="129.85" y="419.15" width="3.7" height="3.7" rx="0.6" fill="#16704a"/>
<line x1="158.2" y1="405" x2="173.4" y2="405" stroke="#16704a" stroke-width="1.4"/>
<line x1="158.2" y1="403.7" x2="158.2" y2="406.3" stroke="#16704a" stroke-width="1.2"/>
<line x1="173.4" y1="403.7" x2="173.4" y2="406.3" stroke="#16704a" stroke-width="1.2"/>
<rect x="163.75" y="403.15" width="3.7" height="3.7" rx="0.6" fill="#16704a"/>
<line x1="159.1" y1="408.9" x2="167.8" y2="408.9" stroke="#16704a" stroke-width="1.4"/>
<line x1="159.1" y1="407.59999999999997" x2="159.1" y2="410.2" stroke="#16704a" stroke-width="1.2"/>
<line x1="167.8" y1="407.59999999999997" x2="167.8" y2="410.2" stroke="#16704a" stroke-width="1.2"/>
<rect x="161.35" y="407.04999999999995" width="3.7" height="3.7" rx="0.6" fill="#16704a"/>
<line x1="152.4" y1="413" x2="164.1" y2="413" stroke="#16704a" stroke-width="1.4"/>
<line x1="152.4" y1="411.7" x2="152.4" y2="414.3" stroke="#16704a" stroke-width="1.2"/>
<line x1="164.1" y1="411.7" x2="164.1" y2="414.3" stroke="#16704a" stroke-width="1.2"/>
<rect x="156.35" y="411.15" width="3.7" height="3.7" rx="0.6" fill="#16704a"/>
<line x1="178.4" y1="405" x2="188.8" y2="405" stroke="#16704a" stroke-width="1.4"/>
<line x1="178.4" y1="403.7" x2="178.4" y2="406.3" stroke="#16704a" stroke-width="1.2"/>
<line x1="188.8" y1="403.7" x2="188.8" y2="406.3" stroke="#16704a" stroke-width="1.2"/>
<rect x="181.85" y="403.15" width="3.7" height="3.7" rx="0.6" fill="#16704a"/>
<line x1="174.6" y1="408.9" x2="185.7" y2="408.9" stroke="#16704a" stroke-width="1.4"/>
<line x1="174.6" y1="407.59999999999997" x2="174.6" y2="410.2" stroke="#16704a" stroke-width="1.2"/>
<line x1="185.7" y1="407.59999999999997" x2="185.7" y2="410.2" stroke="#16704a" stroke-width="1.2"/>
<rect x="178.35" y="407.04999999999995" width="3.7" height="3.7" rx="0.6" fill="#16704a"/>
<line x1="173.4" y1="413" x2="183.7" y2="413" stroke="#16704a" stroke-width="1.4"/>
<line x1="173.4" y1="411.7" x2="173.4" y2="414.3" stroke="#16704a" stroke-width="1.2"/>
<line x1="183.7" y1="411.7" x2="183.7" y2="414.3" stroke="#16704a" stroke-width="1.2"/>
<rect x="176.25" y="411.15" width="3.7" height="3.7" rx="0.6" fill="#16704a"/>
<line x1="169.9" y1="417.1" x2="180.4" y2="417.1" stroke="#16704a" stroke-width="1.4"/>
<line x1="169.9" y1="415.8" x2="169.9" y2="418.40000000000003" stroke="#16704a" stroke-width="1.2"/>
<line x1="180.4" y1="415.8" x2="180.4" y2="418.40000000000003" stroke="#16704a" stroke-width="1.2"/>
<rect x="173.25" y="415.25" width="3.7" height="3.7" rx="0.6" fill="#16704a"/>
<line x1="209.2" y1="396.1" x2="218.4" y2="396.1" stroke="#16704a" stroke-width="1.4"/>
<line x1="209.2" y1="394.8" x2="209.2" y2="397.40000000000003" stroke="#16704a" stroke-width="1.2"/>
<line x1="218.4" y1="394.8" x2="218.4" y2="397.40000000000003" stroke="#16704a" stroke-width="1.2"/>
<rect x="211.85" y="394.25" width="3.7" height="3.7" rx="0.6" fill="#16704a"/>
<line x1="214.6" y1="401.3" x2="229.8" y2="401.3" stroke="#16704a" stroke-width="1.4"/>
<line x1="214.6" y1="400.0" x2="214.6" y2="402.6" stroke="#16704a" stroke-width="1.2"/>
<line x1="229.8" y1="400.0" x2="229.8" y2="402.6" stroke="#16704a" stroke-width="1.2"/>
<rect x="220.55" y="399.45" width="3.7" height="3.7" rx="0.6" fill="#16704a"/>
<line x1="208.2" y1="405.4" x2="221.9" y2="405.4" stroke="#16704a" stroke-width="1.4"/>
<line x1="208.2" y1="404.09999999999997" x2="208.2" y2="406.7" stroke="#16704a" stroke-width="1.2"/>
<line x1="221.9" y1="404.09999999999997" x2="221.9" y2="406.7" stroke="#16704a" stroke-width="1.2"/>
<rect x="213.25" y="403.54999999999995" width="3.7" height="3.7" rx="0.6" fill="#16704a"/>
<line x1="202.2" y1="409.5" x2="216.3" y2="409.5" stroke="#16704a" stroke-width="1.4"/>
<line x1="202.2" y1="408.2" x2="202.2" y2="410.8" stroke="#16704a" stroke-width="1.2"/>
<line x1="216.3" y1="408.2" x2="216.3" y2="410.8" stroke="#16704a" stroke-width="1.2"/>
<rect x="207.15" y="407.65" width="3.7" height="3.7" rx="0.6" fill="#16704a"/>
<line x1="199.4" y1="413.9" x2="213.1" y2="413.9" stroke="#16704a" stroke-width="1.4"/>
<line x1="199.4" y1="412.59999999999997" x2="199.4" y2="415.2" stroke="#16704a" stroke-width="1.2"/>
<line x1="213.1" y1="412.59999999999997" x2="213.1" y2="415.2" stroke="#16704a" stroke-width="1.2"/>
<rect x="204.45000000000002" y="412.04999999999995" width="3.7" height="3.7" rx="0.6" fill="#16704a"/>
<line x1="235.3" y1="397" x2="252.6" y2="397" stroke="#16704a" stroke-width="1.4"/>
<line x1="235.3" y1="395.7" x2="235.3" y2="398.3" stroke="#16704a" stroke-width="1.2"/>
<line x1="252.6" y1="395.7" x2="252.6" y2="398.3" stroke="#16704a" stroke-width="1.2"/>
<rect x="241.95000000000002" y="395.15" width="3.7" height="3.7" rx="0.6" fill="#16704a"/>
<line x1="252.2" y1="402" x2="266.6" y2="402" stroke="#16704a" stroke-width="1.4"/>
<line x1="252.2" y1="400.7" x2="252.2" y2="403.3" stroke="#16704a" stroke-width="1.2"/>
<line x1="266.6" y1="400.7" x2="266.6" y2="403.3" stroke="#16704a" stroke-width="1.2"/>
<rect x="257.65" y="400.15" width="3.7" height="3.7" rx="0.6" fill="#16704a"/>
<defs><clipPath id="mc"><rect x="388.4" y="163.3" width="295.8" height="181.1"/></clipPath></defs>
<g clip-path="url(#mc)">
<path d="M443.0,230.0 L449.8,233.0 L455.0,237.3 L466.0,241.8 L477.0,244.5 L485.0,245.7 L497.0,245.0 L505.0,243.5 L501.0,252.0 L501.0,259.0 L504.0,266.0 L507.5,274.0 L511.0,282.0 L513.0,292.0 L514.0,302.0 L514.5,312.0 L514.5,318.0 L510.4,321.1 L505.3,325.5 L500.0,331.0 L495.0,332.6 L490.0,331.4 L486.0,328.5 L482.4,322.7 L480.1,318.0 L479.0,309.0 L473.0,302.0 L461.5,296.0 L454.0,294.6 L449.0,299.0 L449.8,309.0 L451.0,322.0 L445.0,329.6 L437.0,335.5 L431.0,341.0 L429.4,344.4 L388.4,344.4 L388.4,284.0 L400.0,277.4 L415.0,270.0 L427.0,257.4 L435.0,245.0 Z" fill="#fad791"/>
<path d="M532.0,236.0 L542.0,234.0 L548.0,230.0 L552.2,225.5 L561.1,223.9 L564.3,217.4 L567.6,207.7 L570.8,201.2 L577.0,200.5 L583.0,197.0 L589.0,193.4 L595.0,185.3 L600.0,179.2 L605.0,176.2 L611.0,177.2 L615.0,179.0 L618.7,184.7 L622.3,192.0 L627.2,199.3 L633.3,206.0 L639.3,209.7 L646.7,210.3 L651.5,208.5 L656.4,205.4 L663.7,199.3 L671.0,192.0 L678.3,186.0 L684.2,183.0 L684.2,221.3 L669.8,223.7 L657.6,228.6 L663.3,244.3 L671.2,256.8 L655.0,256.0 L634.0,258.0 L609.0,263.0 L583.0,268.0 L558.0,272.0 L545.0,265.5 L535.0,258.0 L528.5,252.0 L531.0,243.0 Z" fill="#c7e08f"/>
<path d="M557.9,271.3 L569.7,269.3 L582.8,267.3 L596.0,264.7 L609.0,262.0 L623.6,259.5 L634.0,257.5 L645.0,256.0 L655.0,255.0 L663.0,255.5 L671.0,256.8 L684.2,254.5 L684.2,315.0 L671.0,319.0 L661.0,323.0 L651.0,329.0 L640.6,332.2 L630.4,333.5 L620.0,331.0 L615.0,324.0 L610.0,312.0 L606.0,305.0 L600.0,310.0 L591.0,317.0 L573.8,318.6 L560.9,318.8 L553.2,322.0 L544.3,324.6 L539.1,322.7 L531.5,318.2 L526.0,316.0 L532.0,312.0 L540.3,310.5 L546.4,308.3 L550.2,306.0 L552.5,297.6 L556.3,288.5 L559.4,281.0 L561.0,273.0 Z" fill="#93d1ee"/>
<path d="M425.7,206.4 L432.2,199.9 L438.7,199.9 L443.5,208.8 L448.4,211.2 L452.5,212.5 L460.6,211.2 L465.0,207.3 L476.2,205.6 L487.3,204.5 L498.5,203.4 L509.6,202.3 L518.0,203.5 L524.0,207.0 L527.5,209.5 L531.4,213.4 L533.0,220.7 L532.0,228.5 L528.6,236.3 L525.3,240.8 L518.6,242.4 L509.6,243.0 L498.5,244.1 L487.3,244.7 L476.0,244.1 L465.0,242.5 L457.0,239.0 L451.0,234.5 L446.8,229.1 L444.4,225.8 L441.1,222.6 L436.2,219.4 L430.6,217.7 L425.7,216.1 Z" fill="#8f8d8e"/>
<path d="M388.4,308.2 H684.2 M388.4,272.0 H684.2 M388.4,235.7 H684.2 M388.4,199.5 H684.2 M421.3,163.3 V344.4 M487.0,163.3 V344.4 M552.7,163.3 V344.4 M618.5,163.3 V344.4" stroke="#444" stroke-width="0.8" stroke-dasharray="1 2" fill="none"/>
<path d="M383.5,174.2 L389.1,173.8 L394.0,175.3 L391.7,177.8 L394.6,181.4 L392.3,182.9 L391.0,184.7 L389.1,186.5 L383.5,186.5 M388.4,252.8 L393.7,253.1 L401.5,252.8 L410.1,252.0 L412.1,254.6 L414.7,258.2 L417.3,261.1 L420.0,262.2 L422.3,261.5 L418.3,263.6 L418.6,266.5 L422.9,269.1 L428.5,267.6 L429.8,264.0 L430.8,267.3 L430.5,272.0 L430.5,275.6 L431.1,281.0 L432.8,286.4 L434.4,290.8 L436.1,295.5 L437.0,299.1 L439.3,302.7 L441.0,306.4 L442.6,310.7 L444.3,314.3 L445.9,315.1 L448.2,312.5 L450.8,310.7 L451.8,307.1 L453.8,306.7 L453.5,302.7 L454.8,297.3 L455.1,290.1 L457.4,286.4 L461.7,284.3 L462.4,282.1 L465.6,279.2 L469.9,274.5 L475.5,270.9 L477.1,268.3 L479.8,265.4 L482.1,265.8 L483.7,265.4 L486.3,264.7 L488.6,262.9 L490.9,263.3 L492.9,264.0 L494.2,268.3 L494.6,269.4 L496.9,272.0 L499.5,274.9 L501.8,281.0 L500.8,286.4 L502.8,286.4 L505.1,287.2 L507.7,284.6 L510.7,283.6 L512.3,286.4 L512.6,291.9 L514.3,296.6 L515.6,301.7 L514.9,308.2 L514.3,311.8 L514.6,315.4 L516.3,316.1 L518.2,320.9 L520.9,324.5 L521.2,329.9 L523.2,333.5 L524.8,335.0 L528.1,337.9 L531.4,339.7 L533.7,339.3 L532.4,335.3 L531.0,329.2 L529.7,324.5 L527.1,321.9 L524.1,319.4 L521.2,318.0 L520.5,314.3 L519.5,311.1 L517.2,307.5 L518.2,302.7 L519.5,299.1 L519.9,295.9 L521.5,295.5 L522.8,297.3 L524.8,298.4 L527.4,300.2 L529.1,302.4 L530.4,304.9 L534.3,306.4 L536.0,307.5 L535.6,312.9 L537.0,313.3 L540.2,310.4 L542.2,306.7 L544.5,306.0 L549.1,303.5 L550.4,299.1 L550.1,295.5 L548.8,289.0 L547.1,286.4 L543.9,283.6 L541.2,279.9 L538.9,276.3 L539.3,273.4 L541.6,270.9 L544.5,267.3 L547.8,265.8 L551.1,266.2 L552.1,267.3 L552.4,270.5 L553.7,270.9 L554.4,267.6 L557.7,266.2 L562.6,264.0 L564.6,262.9 L566.9,263.6 L570.8,261.8 L574.1,261.1 L577.4,258.2 L580.7,255.3 L583.3,252.0 L584.3,248.4 L586.6,245.5 L588.9,243.0 L590.9,239.4 L592.2,236.1 L590.5,233.9 L591.8,231.4 L588.9,227.8 L588.6,226.0 L586.6,220.2 L583.3,218.4 L584.0,215.8 L587.2,213.3 L590.9,211.1 L593.8,210.4 L590.5,208.6 L587.9,207.5 L584.9,209.7 L582.0,208.9 L581.7,206.8 L579.0,205.7 L578.0,203.5 L580.7,202.4 L583.3,201.3 L585.6,199.5 L589.2,196.6 L592.8,197.7 L589.9,201.0 L589.9,203.1 L592.8,202.1 L595.1,200.6 L599.4,199.9 L601.4,201.0 L603.0,202.1 L602.4,204.6 L601.0,206.4 L604.0,207.9 L606.0,208.2 L607.0,210.4 L606.3,214.0 L607.0,217.6 L606.3,219.4 L609.6,218.7 L613.2,218.0 L615.2,217.3 L616.5,214.7 L616.8,211.8 L616.5,208.6 L613.9,205.3 L612.9,204.2 L610.3,201.7 L610.3,199.9 L613.5,198.4 L617.5,196.3 L617.5,193.7 L620.4,190.8 L623.4,189.0 L626.4,187.6 L629.0,189.4 L633.3,187.2 L636.5,185.4 L641.5,180.7 L645.4,176.3 L648.0,173.1 L652.0,169.1 L653.0,161.5 M386.8,232.5 L388.4,233.4 L393.2,236.1 L396.0,240.7 L398.7,247.0 L399.6,251.7 M453.8,308.9 L455.1,309.6 L458.1,313.6 L460.1,317.2 L459.4,321.2 L456.1,323.0 L454.1,320.9 L453.5,315.4 L453.8,308.9 M548.1,274.9 L550.1,272.0 L554.4,271.6 L556.0,273.4 L554.4,276.7 L551.4,278.5 L548.5,277.4 L548.1,274.9 M585.9,261.1 L587.9,264.7 L588.9,263.3 L590.5,259.3 L592.2,253.8 L590.5,252.8 L588.9,253.8 L586.3,258.2 L585.9,261.1 M618.5,223.1 L621.4,221.6 L624.1,223.8 L623.1,230.7 L620.4,232.1 L619.1,230.7 L619.1,226.3 L617.5,224.5 L618.5,223.1 M626.7,221.6 L630.0,220.2 L633.6,220.5 L633.9,222.0 L632.3,224.1 L629.3,223.4 L627.0,225.6 L626.7,221.6 M655.9,194.4 L656.3,197.7 L657.9,201.3 L656.6,205.0 L654.6,205.7 L654.3,210.4 L653.3,214.0 L654.3,215.1 L651.3,217.6 L650.7,216.5 L648.7,216.9 L647.4,218.7 L645.4,219.1 L641.5,219.1 L641.1,220.2 L638.8,221.6 L637.5,223.1 L635.6,222.0 L636.2,219.1 L632.3,218.7 L628.3,219.8 L625.0,221.6 L621.8,221.3 L621.8,219.1 L624.7,216.2 L628.3,215.5 L633.3,215.5 L636.5,215.5 L638.2,214.4 L640.8,209.7 L642.5,211.1 L646.4,208.9 L649.4,206.0 L651.0,202.4 L651.3,198.8 L652.3,195.2 L655.9,194.4 M651.3,194.1 L654.6,194.4 L656.9,190.1 L662.2,192.3 L666.1,188.7 L669.4,187.6 L667.8,185.0 L664.5,184.7 L657.9,180.0 L656.6,180.7 L656.9,183.9 L655.9,187.2 L652.7,187.6 L653.0,190.1 L651.3,191.6 L651.3,194.1 M657.9,177.8 L662.8,176.0 L659.9,172.4 L660.9,166.9 L661.9,161.5 M657.6,175.6 L657.9,170.5 L658.2,161.5 M587.6,277.4 L589.9,277.0 L592.8,277.4 L592.5,282.8 L590.5,286.8 L590.9,290.1 L592.2,293.3 L595.5,294.1 L598.4,294.8 L599.1,298.8 L596.4,297.3 L594.1,296.2 L591.5,294.1 L588.6,293.0 L587.6,291.5 L585.9,290.8 L585.3,286.4 L586.9,285.4 L587.6,277.4 M586.9,295.5 L589.5,295.9 L590.9,297.7 L589.5,299.8 L588.2,299.8 L586.9,298.0 L586.9,295.5 M599.4,299.1 L602.0,298.8 L603.4,299.8 L604.3,302.0 L604.7,304.2 L603.4,304.6 L602.0,303.5 L600.7,302.7 L599.4,300.9 L599.4,299.1 M600.1,302.7 L601.7,303.5 L602.7,305.3 L602.7,307.5 L601.7,308.2 L601.0,307.1 L600.1,304.9 L600.1,302.7 M598.1,307.8 L600.1,307.8 L600.7,308.9 L599.1,309.6 L598.1,309.3 L598.1,307.8 M596.8,309.6 L598.4,307.1 L599.1,304.6 L598.7,303.5 L597.8,305.3 L596.4,308.2 L596.8,309.6 M593.5,306.4 L595.5,304.9 L597.1,306.0 L596.4,308.9 L596.1,311.4 L595.1,311.8 L594.1,309.6 L593.5,306.4 M591.8,301.7 L594.1,301.3 L595.8,302.7 L595.1,305.3 L593.8,306.0 L592.5,306.4 L591.8,304.6 L591.8,301.7 M596.1,299.5 L597.8,298.8 L599.1,300.2 L597.4,301.3 L596.1,300.6 L596.1,299.5 M591.8,319.0 L593.2,317.2 L595.1,316.9 L596.8,315.4 L598.1,313.3 L599.7,313.6 L601.4,311.8 L602.7,310.7 L603.7,308.9 L605.0,309.6 L605.7,311.1 L606.6,314.0 L607.3,317.2 L607.0,319.8 L606.0,321.6 L604.0,322.7 L603.4,324.1 L602.0,323.0 L600.7,321.9 L599.1,321.2 L598.7,319.0 L597.4,316.9 L595.5,317.2 L593.8,319.4 L591.8,319.0 M576.4,314.0 L582.3,308.2 L584.3,304.6 L583.0,303.5 L578.4,310.0 L576.4,314.0 M549.4,346.2 L549.4,340.8 L551.4,337.2 L556.0,339.0 L557.7,335.3 L562.6,332.8 L565.9,328.1 L569.2,326.3 L570.8,324.5 L574.1,320.1 L576.4,319.8 L578.0,322.7 L583.0,325.2 L580.0,328.1 L578.4,329.9 L577.7,333.5 L579.0,340.8 L578.4,342.6 L577.4,346.2 M514.9,346.2 L514.9,339.0 L511.7,335.3 L508.4,331.7 L505.1,328.1 L504.4,324.1 L508.4,325.6 L511.7,325.6 L514.3,329.2 L518.6,333.5 L521.5,337.2 L524.8,339.0 L531.4,343.3 L533.0,346.2 M584.9,346.2 L586.6,342.2 L590.5,342.6 L595.5,342.6 L599.7,342.6 L602.7,339.0 L600.4,343.3 L595.5,343.7 L588.9,344.0 L587.2,346.2 M610.3,346.2 L611.2,340.1 L612.6,336.4 L613.9,339.7 L611.9,341.5 L614.2,343.0 L611.9,344.4 L613.2,346.2" stroke="#000" stroke-width="1.1" fill="none" stroke-linejoin="round"/>
<path d="M432.4,178.5 L434.0,176.3 L437.0,175.3 L442.0,175.8 L447.0,175.3 L452.0,174.9 L452.0,176.3 L447.0,176.7 L442.0,177.1 L437.5,177.0 L436.2,178.5 L435.3,181.5 L434.0,182.0 L432.6,180.2 Z" stroke="#000" stroke-width="1.2" fill="#fff" stroke-linejoin="round"/>
<path d="M388.4,344.4 L388.8,340.3 M388.4,335.3 L391.3,330.6 M388.4,326.3 L393.8,320.9 M388.4,317.2 L396.7,312.3 M388.4,308.2 L400.1,303.5 M388.4,299.1 L400.2,293.6 M388.4,290.1 L400.4,283.7 M388.4,281.0 L398.4,276.0 M388.4,272.0 L396.7,268.1 M388.4,262.9 L394.8,260.9 M388.4,253.8 L392.5,253.8 M388.4,244.8 L389.2,247.6 M388.4,235.7 L385.8,241.4 M388.4,226.7 L384.9,232.6 M388.4,217.6 L384.1,223.8 M388.4,208.6 L385.3,214.1 M388.4,199.5 L386.6,204.4 M388.4,190.5 L387.5,194.3 M388.4,181.4 L388.3,184.1 M388.4,172.4 L388.4,174.8 M388.4,163.3 L388.4,165.5 M396.6,344.4 L397.2,340.9 M396.6,335.3 L399.9,331.3 M396.6,326.3 L402.6,321.7 M396.6,317.2 L405.3,312.8 M396.6,308.2 L408.4,303.7 M396.6,299.1 L408.8,293.7 M396.6,290.1 L409.2,283.8 M396.6,281.0 L407.3,275.9 M396.6,272.0 L405.8,267.7 M396.6,262.9 L403.5,260.4 M396.6,253.8 L400.7,253.3 M396.6,244.8 L398.2,246.6 M396.6,235.7 L395.9,240.2 M396.6,226.7 L392.8,232.8 M396.6,217.6 L392.3,223.8 M396.6,208.6 L393.6,214.1 M396.6,199.5 L394.9,204.4 M396.6,190.5 L395.7,194.3 M396.6,181.4 L396.5,184.1 M396.6,172.4 L396.5,174.8 M396.6,163.3 L396.6,165.5 M404.8,344.4 L405.6,341.4 M404.8,335.3 L408.5,332.0 M404.8,326.3 L411.4,322.5 M404.8,317.2 L413.8,313.3 M404.8,308.2 L416.7,303.9 M404.8,299.1 L417.4,293.9 M404.8,290.1 L418.1,283.9 M404.8,281.0 L416.3,275.7 M404.8,272.0 L415.0,267.2 M404.8,262.9 L412.1,259.9 M404.8,253.8 L408.8,252.8 M404.8,244.8 L408.2,245.1 M404.8,235.7 L406.0,238.9 M404.8,226.7 L402.5,231.7 M404.8,217.6 L400.5,223.8 M404.8,208.6 L401.8,214.1 M404.8,199.5 L403.1,204.4 M404.8,190.5 L403.8,194.3 M404.8,181.4 L404.6,184.1 M404.8,172.4 L404.7,174.8 M404.8,163.3 L404.8,165.5 M413.1,344.4 L414.3,341.9 M413.1,335.3 L417.3,332.5 M413.1,326.3 L420.3,323.1 M413.1,317.2 L422.3,314.0 M413.1,308.2 L424.7,304.8 M413.1,299.1 L425.4,295.1 M413.1,290.1 L426.2,285.2 M413.1,281.0 L424.6,276.8 M413.1,272.0 L423.5,268.2 M413.1,262.9 L420.4,259.9 M413.1,253.8 L417.6,251.5 M413.1,244.8 L416.6,242.7 M413.1,235.7 L414.1,238.2 M413.1,226.7 L412.5,230.1 M413.1,217.6 L409.1,222.8 M413.1,208.6 L410.2,213.1 M413.1,199.5 L411.3,203.4 M413.1,190.5 L412.1,193.7 M413.1,181.4 L412.9,183.8 M413.1,172.4 L413.1,174.5 M413.1,163.3 L413.2,165.2 M421.3,344.4 L423.0,342.4 M421.3,335.3 L426.1,333.0 M421.3,326.3 L429.1,323.7 M421.3,317.2 L430.8,314.8 M421.3,308.2 L432.8,305.7 M421.3,299.1 L433.5,296.2 M421.3,290.1 L434.4,286.5 M421.3,281.0 L433.0,277.9 M421.3,272.0 L432.1,269.1 M421.3,262.9 L429.1,259.8 M421.3,253.8 L426.3,250.3 M421.3,244.8 L425.2,240.9 M421.3,235.7 L422.1,237.2 M421.3,226.7 L420.4,229.2 M421.3,217.6 L417.7,221.8 M421.3,208.6 L419.5,210.6 M421.3,199.5 L419.6,202.4 M421.3,190.5 L420.4,193.1 M421.3,181.4 L421.3,183.6 M421.3,172.4 L421.5,174.2 M421.3,163.3 L421.7,164.9 M429.5,344.4 L432.2,341.8 M429.5,335.3 L435.0,332.8 M429.5,326.3 L437.4,324.0 M429.5,317.2 L439.1,315.2 M429.5,308.2 L440.8,306.5 M429.5,299.1 L441.3,297.2 M429.5,290.1 L441.8,287.8 M429.5,281.0 L440.8,279.2 M429.5,272.0 L439.8,270.5 M429.5,262.9 L437.2,261.4 M429.5,253.8 L434.1,252.3 M429.5,244.8 L432.6,242.1 M429.5,235.7 L430.6,236.9 M429.5,226.7 L427.8,228.7 M429.5,217.6 L427.8,219.0 M429.5,208.6 L427.9,210.1 M429.5,199.5 L427.8,201.5 M429.1,190.5 h0.8 M429.5,181.4 L429.7,182.7 M429.5,172.4 L429.9,173.8 M429.5,163.3 L430.1,164.8 M437.7,344.4 L441.4,341.3 M437.7,335.3 L443.9,332.6 M437.7,326.3 L445.9,324.1 M437.7,317.2 L447.4,315.6 M437.7,308.2 L448.8,307.2 M437.7,299.1 L449.2,298.1 M437.7,290.1 L449.5,289.0 M437.7,281.0 L448.5,280.5 M437.7,272.0 L447.6,272.0 M437.7,262.9 L444.9,263.1 M437.7,253.8 L441.8,254.2 M437.7,244.8 L440.4,244.8 M437.7,235.7 L439.2,236.6 M437.7,226.7 L436.0,228.7 M437.7,217.6 L435.9,218.9 M437.7,208.6 L436.0,210.0 M437.7,199.5 L436.3,200.5 M437.3,190.5 h0.8 M437.7,181.4 L438.0,182.0 M437.7,172.4 L438.3,173.4 M437.7,163.3 L438.5,164.7 M445.9,344.4 L449.9,341.1 M445.9,335.3 L452.4,332.5 M445.9,326.3 L454.5,324.0 M445.9,317.2 L455.4,315.6 M445.9,308.2 L456.4,307.3 M445.9,299.1 L456.7,298.6 M445.9,290.1 L457.0,290.0 M445.9,281.0 L456.0,281.4 M445.9,272.0 L455.0,272.7 M445.9,262.9 L452.7,263.6 M445.9,253.8 L450.0,254.4 M445.9,244.8 L448.8,245.9 M445.9,235.7 L447.9,236.0 M445.9,226.7 L444.0,228.6 M445.9,217.6 L443.6,219.0 M445.9,208.6 L444.1,209.8 M445.9,199.5 L444.1,201.1 M445.5,190.5 h0.8 M445.9,181.4 L446.7,182.6 M445.9,172.4 L446.9,173.8 M445.9,163.3 L447.2,165.1 M454.1,344.4 L458.4,340.9 M454.1,335.3 L460.9,332.3 M454.1,326.3 L463.0,323.9 M454.1,317.2 L463.5,315.6 M454.1,308.2 L463.9,307.3 M454.1,299.1 L464.3,299.2 M454.1,290.1 L464.6,291.0 M454.1,281.0 L463.6,282.2 M454.1,272.0 L462.5,273.4 M454.1,262.9 L460.6,264.0 M454.1,253.8 L458.2,254.6 M454.1,244.8 L456.2,245.4 M454.1,235.7 L456.8,235.3 M454.1,226.7 L451.0,229.3 M454.1,217.6 L451.0,220.3 M454.1,208.6 L451.5,211.0 M454.1,199.5 L451.9,201.7 M453.7,190.5 h0.8 M454.1,181.4 L455.4,183.2 M454.1,172.4 L455.6,174.3 M454.1,163.3 L455.9,165.3 M462.4,344.4 L466.4,340.7 M462.4,335.3 L469.0,332.1 M462.4,326.3 L471.2,323.7 M462.4,317.2 L471.5,315.2 M462.4,308.2 L471.8,306.8 M462.4,299.1 L472.1,298.7 M462.4,290.1 L472.5,290.5 M462.4,281.0 L471.5,281.9 M462.4,272.0 L470.5,273.2 M462.4,262.9 L468.8,263.9 M462.4,253.8 L466.8,254.4 M462.4,244.8 L465.0,244.3 M462.4,235.7 L465.3,234.4 M462.4,226.7 L459.0,229.1 M462.4,217.6 L459.0,220.0 M462.4,208.6 L459.5,211.0 M462.4,199.5 L460.0,201.9 M462.0,190.5 h0.8 M462.4,181.4 L463.9,183.6 M462.4,172.4 L464.1,174.5 M462.4,163.3 L464.3,165.4 M470.6,344.4 L474.5,340.5 M470.6,335.3 L477.1,331.9 M470.6,326.3 L479.3,323.4 M470.6,317.2 L479.4,314.9 M470.6,308.2 L479.6,306.3 M470.6,299.1 L480.0,298.2 M470.6,290.1 L480.4,290.1 M470.6,281.0 L479.4,281.6 M470.6,272.0 L478.4,273.1 M470.6,262.9 L477.1,263.7 M470.6,253.8 L475.4,254.3 M470.6,244.8 L474.5,243.9 M470.6,235.7 L473.7,233.6 M470.6,226.7 L467.2,229.1 M470.6,217.6 L467.0,219.7 M470.6,208.6 L467.4,210.9 M470.6,199.5 L467.9,202.2 M470.6,190.5 L470.1,192.9 M470.6,181.4 L472.3,183.9 M470.6,172.4 L472.5,174.7 M470.6,163.3 L472.8,165.5 M478.8,344.4 L482.7,340.5 M478.8,335.3 L485.3,331.8 M478.8,326.3 L487.4,323.1 M478.8,317.2 L487.5,314.5 M478.8,308.2 L487.7,305.8 M478.8,299.1 L488.1,297.4 M478.8,290.1 L488.5,289.0 M478.8,281.0 L487.4,280.3 M478.8,272.0 L486.5,271.6 M478.8,262.9 L483.2,258.5 M478.8,253.8 L481.9,251.4 M478.8,244.8 L480.8,240.4 M478.8,235.7 L481.9,232.8 M478.8,226.7 L475.4,229.6 M478.8,217.6 L475.2,219.9 M478.8,208.6 L475.8,211.1 M478.8,199.5 L476.3,202.2 M478.8,190.5 L478.6,193.0 M478.8,181.4 L480.8,184.0 M478.8,172.4 L480.9,174.7 M478.8,163.3 L481.1,165.4 M487.0,344.4 L490.9,340.5 M487.0,335.3 L493.4,331.6 M487.0,326.3 L495.5,322.8 M487.0,317.2 L495.6,314.1 M487.0,308.2 L495.7,305.3 M487.0,299.1 L496.2,296.7 M487.0,290.1 L496.6,288.0 M487.0,281.0 L495.3,279.1 M487.0,272.0 L494.3,270.0 M487.0,262.9 L490.6,257.8 M487.0,253.8 L488.4,248.5 M487.0,244.8 L488.9,239.6 M487.0,235.7 L490.1,232.1 M487.0,226.7 L483.6,229.6 M487.0,217.6 L483.3,220.2 M487.0,208.6 L484.1,211.2 M487.0,199.5 L484.8,202.1 M487.0,190.5 L487.0,193.0 M487.0,181.4 L489.2,184.0 M487.0,172.4 L489.3,174.7 M487.0,163.3 L489.4,165.3 M495.2,344.4 L498.7,340.6 M495.2,335.3 L501.2,331.6 M495.2,326.3 L503.3,322.8 M495.2,317.2 L503.6,313.9 M495.2,308.2 L503.9,305.0 M495.2,299.1 L504.2,296.1 M495.2,290.1 L504.6,287.2 M495.2,281.0 L503.3,278.3 M495.2,272.0 L502.3,269.4 M495.2,262.9 L499.2,258.2 M495.2,253.8 L497.2,248.4 M495.2,244.8 L497.8,239.2 M495.2,235.7 L498.3,232.1 M495.2,226.7 L492.3,229.6 M495.2,217.6 L491.7,220.3 M495.2,208.6 L492.8,211.3 M495.2,199.5 L493.9,202.2 M495.2,190.5 L495.7,192.6 M495.2,181.4 L497.7,183.4 M495.2,172.4 L497.8,174.2 M495.2,163.3 L497.8,164.9 M503.4,344.4 L506.5,340.7 M503.4,335.3 L509.0,331.6 M503.4,326.3 L511.2,322.7 M503.4,317.2 L511.6,313.7 M503.4,308.2 L512.0,304.7 M503.4,299.1 L512.3,295.6 M503.4,290.1 L512.6,286.4 M503.4,281.0 L511.3,277.6 M503.4,272.0 L510.3,268.8 M503.4,262.9 L507.8,258.5 M503.4,253.8 L506.1,248.2 M503.4,244.8 L506.2,240.0 M503.4,235.7 L506.5,232.1 M503.4,226.7 L500.5,229.6 M503.4,217.6 L500.0,220.5 M503.4,208.6 L501.5,211.4 M503.4,199.5 L503.0,202.2 M503.4,190.5 L504.5,192.2 M503.4,181.4 L506.2,182.7 M503.4,172.4 L506.2,173.7 M503.4,163.3 L506.2,164.6 M511.7,344.4 L514.6,340.6 M511.7,335.3 L516.9,331.5 M511.7,326.3 L518.9,322.5 M511.7,317.2 L519.6,313.9 M511.7,308.2 L520.4,305.3 M511.7,299.1 L520.7,296.4 M511.7,290.1 L521.1,287.5 M511.7,281.0 L519.9,278.5 M511.7,272.0 L519.1,269.3 M511.7,262.9 L516.9,259.3 M511.7,253.8 L514.7,249.3 M511.7,244.8 L514.2,240.8 M511.7,235.7 L513.8,232.3 M511.7,226.7 L509.5,229.3 M511.7,217.6 L508.7,220.3 M511.7,208.6 L510.3,211.0 M511.7,199.5 L511.8,201.6 M511.7,190.5 L513.0,192.0 M511.7,181.4 L514.5,182.6 M511.7,172.4 L514.4,173.5 M511.7,163.3 L514.3,164.4 M519.9,344.4 L522.6,340.5 M519.9,335.3 L524.8,331.3 M519.9,326.3 L526.7,322.3 M519.9,317.2 L527.7,314.1 M519.9,308.2 L528.7,305.8 M519.9,299.1 L529.2,297.2 M519.9,290.1 L529.6,288.7 M519.9,281.0 L528.6,279.3 M519.9,272.0 L527.5,269.9 M519.9,262.9 L525.6,260.1 M519.9,253.8 L523.3,250.4 M519.9,244.8 L522.2,241.5 M519.9,235.7 L521.0,232.6 M519.9,226.7 L518.5,229.0 M519.9,217.6 L521.9,218.4 M519.9,208.6 L519.1,210.5 M519.9,199.5 L520.4,201.1 M519.9,190.5 L521.5,191.8 M519.9,181.4 L522.8,182.5 M519.9,172.4 L522.6,173.4 M519.9,163.3 L522.4,164.2 M528.1,344.4 L530.5,340.6 M528.1,335.3 L532.4,331.3 M528.1,326.3 L534.3,322.0 M528.1,317.2 L535.7,314.3 M528.1,308.2 L536.8,306.6 M528.1,299.1 L537.2,298.0 M528.1,290.1 L537.6,289.4 M528.1,281.0 L536.5,279.7 M528.1,272.0 L535.7,269.9 M528.1,262.9 L533.3,260.1 M528.1,253.8 L530.8,250.4 M528.1,244.8 L529.8,241.4 M528.1,235.7 L528.7,232.4 M528.1,226.7 L528.3,227.0 M528.1,217.6 L530.5,218.8 M528.1,208.6 L527.9,210.0 M528.1,199.5 L528.8,200.7 M528.1,190.5 L529.7,191.5 M528.1,181.4 L530.9,182.3 M528.1,172.4 L530.7,173.2 M528.1,163.3 L530.6,164.1 M536.3,344.4 L538.4,340.8 M536.3,335.3 L540.0,331.3 M536.3,326.3 L541.6,321.9 M536.3,317.2 L543.4,314.6 M536.3,308.2 L544.8,307.4 M536.3,299.1 L545.2,298.8 M536.3,290.1 L545.5,290.1 M536.3,281.0 L544.4,280.1 M536.3,272.0 L543.6,270.0 M536.3,262.9 L541.0,260.1 M536.3,253.8 L538.4,250.3 M536.3,244.8 L537.4,241.3 M536.3,235.7 L536.4,232.4 M536.3,226.7 L536.4,227.0 M536.3,217.6 L538.5,219.2 M536.3,208.6 L536.6,209.7 M536.3,199.5 L537.1,200.4 M536.3,190.5 L537.9,191.3 M536.3,181.4 L538.9,182.1 M536.3,172.4 L538.9,173.0 M536.3,163.3 L538.9,164.0 M544.5,344.4 L546.1,341.0 M544.5,335.3 L547.6,331.6 M544.5,326.3 L549.1,322.1 M544.5,317.2 L550.6,314.0 M544.5,308.2 L552.2,305.8 M544.5,299.1 L552.3,297.1 M544.5,290.1 L552.7,288.4 M544.5,281.0 L551.6,278.7 M544.5,272.0 L550.1,269.0 M544.5,262.9 L547.9,259.3 M544.5,253.8 L545.8,249.7 M544.5,244.8 L545.2,240.8 M544.5,235.7 L544.7,232.0 M544.5,226.7 L544.5,226.6 M544.5,217.6 L544.8,219.1 M544.5,208.6 L545.1,209.6 M544.5,199.5 L545.4,200.2 M544.5,190.5 L546.0,191.1 M544.5,181.4 L546.6,181.9 M544.5,172.4 L546.6,172.8 M544.5,163.3 L546.6,163.8 M552.7,344.4 L553.9,341.2 M552.7,335.3 L555.3,331.8 M552.7,326.3 L556.6,322.4 M552.7,317.2 L557.9,313.3 M552.7,308.2 L559.2,304.2 M552.7,299.1 L559.7,295.4 M552.7,290.1 L559.9,286.7 M552.7,281.0 L558.4,277.3 M552.7,272.0 L556.6,268.1 M552.7,262.9 L554.9,258.6 M552.7,253.8 L553.2,249.1 M552.7,244.8 L553.0,240.3 M552.7,235.7 L552.9,231.6 M552.7,226.7 L553.0,226.2 M552.7,217.6 L553.6,219.1 M552.7,208.6 L553.7,209.5 M552.7,199.5 L553.8,200.1 M552.7,190.5 L554.0,190.9 M552.7,181.4 L554.4,181.7 M552.7,172.4 L554.4,172.6 M552.7,163.3 L554.4,163.6 M561.0,344.4 L561.8,341.4 M561.0,335.3 L562.9,332.0 M561.0,326.3 L564.1,322.7 M561.0,317.2 L565.4,313.3 M561.0,308.2 L566.8,304.0 M561.0,299.1 L567.2,294.9 M561.0,290.1 L567.6,285.9 M561.0,281.0 L565.8,277.1 M561.0,272.0 L563.9,268.2 M561.0,262.9 L562.6,258.6 M561.0,253.8 L561.2,249.0 M561.0,244.8 L561.2,240.3 M561.0,235.7 L561.2,231.6 M561.0,226.7 L561.4,224.9 M561.0,217.6 L560.7,217.7 M561.0,208.6 L561.3,208.6 M561.0,199.5 L562.0,199.8 M561.0,190.5 L562.3,190.7 M561.0,181.4 L562.6,181.6 M561.0,172.4 L562.6,172.6 M561.0,163.3 L562.6,163.5 M569.2,344.4 L569.6,341.8 M569.2,335.3 L570.6,332.3 M569.2,326.3 L571.5,322.9 M569.2,317.2 L573.0,313.3 M569.2,308.2 L574.4,303.8 M569.2,299.1 L574.7,294.5 M569.2,290.1 L575.0,285.2 M569.2,281.0 L573.1,276.8 M569.2,272.0 L571.2,268.4 M569.2,262.9 L570.3,258.7 M569.2,253.8 L569.3,249.0 M569.2,244.8 L569.4,240.3 M569.2,235.7 L569.5,231.6 M569.2,226.7 L569.5,223.6 M569.2,217.6 L569.5,216.0 M569.2,208.6 L569.7,208.0 M569.2,199.5 L570.3,199.5 M569.2,190.5 L570.6,190.5 M569.2,181.4 L570.8,181.6 M569.2,172.4 L570.8,172.5 M569.2,163.3 L570.8,163.4 M577.4,344.4 L577.7,341.8 M577.4,335.3 L578.3,332.4 M577.4,326.3 L578.8,323.1 M577.4,317.2 L580.1,313.5 M577.4,308.2 L581.4,304.0 M577.4,299.1 L581.7,294.5 M577.4,290.1 L582.1,285.1 M577.4,281.0 L580.5,276.7 M577.4,272.0 L578.9,268.3 M577.4,262.9 L578.1,259.0 M577.4,253.8 L577.3,249.7 M577.4,244.8 L577.9,240.8 M577.4,235.7 L578.4,231.8 M577.4,226.7 L578.4,223.6 M577.4,217.6 L578.4,215.5 M577.4,208.6 L578.5,207.5 M577.4,199.5 L578.7,199.1 M577.4,190.5 L579.0,190.3 M577.4,181.4 L579.3,181.5 M577.4,172.4 L579.3,172.4 M577.4,163.3 L579.3,163.4 M585.6,344.4 L585.8,341.7 M585.6,335.3 L586.0,332.5 M585.6,326.3 L586.1,323.2 M585.6,317.2 L587.3,313.7 M585.6,308.2 L588.4,304.2 M585.6,299.1 L588.8,294.6 M585.6,290.1 L589.2,285.0 M585.6,281.0 L587.9,276.7 M585.6,272.0 L586.6,268.3 M585.6,262.9 L585.9,259.4 M585.6,253.8 L585.3,250.5 M585.6,244.8 L586.3,241.2 M585.6,235.7 L587.3,232.0 M585.6,226.7 L587.4,223.6 M585.6,217.6 L587.4,215.1 M585.6,208.6 L587.3,206.9 M585.6,199.5 L587.1,198.7 M585.6,190.5 L587.4,190.0 M585.6,181.4 L587.8,181.4 M585.6,172.4 L587.8,172.4 M585.6,163.3 L587.8,163.3 M593.8,344.4 L593.4,341.6 M593.8,335.3 L593.9,332.4 M593.8,326.3 L594.4,323.2 M593.8,317.2 L594.9,314.2 M593.8,308.2 L595.4,305.2 M593.8,299.1 L595.8,295.5 M593.8,290.1 L596.2,285.8 M593.8,281.0 L595.3,277.1 M593.8,272.0 L594.5,268.4 M593.8,262.9 L593.8,259.5 M593.8,253.8 L593.2,250.5 M593.8,244.8 L594.6,241.4 M593.8,235.7 L596.0,232.3 M593.8,226.7 L596.0,223.7 M593.8,217.6 L596.0,215.0 M593.8,208.6 L596.2,206.7 M593.8,199.5 L596.3,198.4 M593.8,190.5 L596.5,189.8 M593.8,181.4 L596.7,181.1 M593.8,172.4 L596.6,172.1 M593.8,163.3 L596.5,163.2 M602.0,344.4 L601.0,341.5 M602.0,335.3 L601.8,332.4 M602.0,326.3 L602.6,323.2 M602.0,317.2 L602.5,314.8 M602.0,308.2 L602.3,306.5 M602.0,299.1 L602.9,296.3 M602.0,290.1 L603.3,286.5 M602.0,281.0 L602.8,277.5 M602.0,272.0 L602.3,268.6 M602.0,262.9 L601.7,259.5 M602.0,253.8 L601.2,250.6 M602.0,244.8 L602.9,241.6 M602.0,235.7 L604.7,232.6 M602.0,226.7 L604.7,223.8 M602.0,217.6 L604.7,215.0 M602.0,208.6 L605.0,206.7 M602.0,199.5 L605.2,198.4 M602.0,190.5 L605.3,189.6 M602.0,181.4 L605.4,180.8 M602.0,172.4 L605.3,171.9 M602.0,163.3 L605.1,163.0 M610.3,344.4 L608.7,341.5 M610.3,335.3 L609.8,332.4 M610.3,326.3 L610.9,323.3 M610.3,317.2 L610.6,315.0 M610.3,308.2 L610.4,306.8 M610.3,299.1 L610.4,296.6 M610.3,290.1 L610.3,286.7 M610.3,281.0 L609.8,277.6 M610.3,272.0 L609.2,268.6 M610.3,262.9 L609.1,259.7 M610.3,253.8 L608.9,250.7 M610.3,244.8 L611.2,241.6 M610.3,235.7 L613.4,232.5 M610.3,226.7 L613.4,223.9 M610.3,217.6 L613.4,215.3 M610.3,208.6 L613.6,206.8 M610.3,199.5 L613.9,198.4 M610.3,190.5 L613.9,189.6 M610.3,181.4 L614.0,180.8 M610.3,172.4 L613.8,171.9 M610.3,163.3 L613.6,163.0 M618.5,344.4 L616.5,341.6 M618.5,335.3 L617.9,332.4 M618.5,326.3 L619.3,323.3 M618.5,317.2 L618.8,315.1 M618.5,308.2 L618.5,307.0 M618.5,299.1 L617.9,296.8 M618.5,290.1 L617.3,286.9 M618.5,281.0 L616.7,277.7 M618.5,272.0 L616.1,268.6 M618.5,262.9 L616.4,259.7 M618.5,253.8 L616.8,250.9 M618.5,244.8 L619.4,241.7 M618.5,235.7 L622.0,232.5 M618.5,226.7 L622.0,224.0 M618.5,217.6 L622.0,215.6 M618.5,208.6 L622.3,207.0 M618.5,199.5 L622.5,198.5 M618.5,190.5 L622.5,189.6 M618.5,181.4 L622.5,180.7 M618.5,172.4 L622.4,171.8 M618.5,163.3 L622.2,163.0 M626.7,344.4 L624.5,341.5 M626.7,335.3 L626.0,332.4 M626.7,326.3 L627.6,323.3 M626.7,317.2 L626.9,315.2 M626.7,308.2 L626.4,307.1 M626.7,299.1 L625.4,297.3 M626.7,290.1 L624.4,287.7 M626.7,281.0 L624.2,278.2 M626.7,272.0 L624.0,268.8 M626.7,262.9 L624.2,259.9 M626.7,253.8 L624.4,250.9 M626.7,244.8 L627.3,241.7 M626.7,235.7 L630.3,232.5 M626.7,226.7 L630.4,224.0 M626.7,217.6 L630.4,215.5 M626.7,208.6 L630.6,207.0 M626.7,199.5 L630.8,198.4 M626.7,190.5 L630.8,189.6 M626.7,181.4 L630.8,180.7 M626.7,172.4 L630.6,171.8 M626.7,163.3 L630.5,163.0 M634.9,344.4 L632.5,341.5 M634.9,335.3 L634.2,332.4 M634.9,326.3 L636.0,323.4 M634.9,317.2 L635.0,315.4 M634.9,308.2 L634.3,307.2 M634.9,299.1 L632.9,297.7 M634.9,290.1 L631.5,288.5 M634.9,281.0 L631.7,278.8 M634.9,272.0 L632.0,269.0 M634.9,262.9 L632.0,260.0 M634.9,253.8 L632.0,250.9 M634.9,244.8 L635.2,241.7 M634.9,235.7 L638.5,232.5 M634.9,226.7 L638.7,224.0 M634.9,217.6 L638.9,215.5 M634.9,208.6 L639.0,206.9 M634.9,199.5 L639.2,198.4 M634.9,190.5 L639.1,189.5 M634.9,181.4 L639.0,180.7 M634.9,172.4 L638.8,171.8 M634.9,163.3 L638.7,163.0 M643.1,344.4 L640.7,341.5 M643.1,335.3 L642.4,332.4 M643.1,326.3 L644.2,323.4 M643.1,317.2 L643.0,315.3 M643.1,308.2 L642.0,307.0 M643.1,299.1 L640.6,297.6 M643.1,290.1 L639.5,288.6 M643.1,281.0 L639.6,278.8 M643.1,272.0 L639.7,269.1 M643.1,262.9 L639.9,260.1 M643.1,253.8 L640.1,251.1 M643.1,244.8 L643.5,241.7 M643.1,235.7 L646.8,232.4 M643.1,226.7 L647.0,223.9 M643.1,217.6 L647.2,215.4 M643.1,208.6 L647.3,206.9 M643.1,199.5 L647.4,198.4 M643.1,190.5 L647.3,189.5 M643.1,181.4 L647.2,180.7 M643.1,172.4 L647.0,171.8 M643.1,163.3 L646.9,163.0 M651.3,344.4 L648.9,341.5 M651.3,335.3 L650.6,332.4 M651.3,326.3 L652.4,323.4 M651.3,317.2 L651.0,315.3 M651.3,308.2 L649.7,306.8 M651.3,299.1 L648.5,297.6 M651.3,290.1 L647.5,288.7 M651.3,281.0 L647.4,278.9 M651.3,272.0 L647.4,269.2 M651.3,262.9 L647.8,260.2 M651.3,253.8 L648.2,251.2 M651.3,244.8 L651.7,241.7 M651.3,235.7 L655.2,232.3 M651.3,226.7 L655.4,223.8 M651.3,217.6 L655.6,215.4 M651.3,208.6 L655.6,206.9 M651.3,199.5 L655.7,198.4 M651.3,190.5 L655.5,189.5 M651.3,181.4 L655.4,180.7 M651.3,172.4 L655.3,171.8 M651.3,163.3 L655.1,163.0 M659.6,344.4 L657.1,341.5 M659.6,335.3 L658.9,332.4 M659.6,326.3 L660.6,323.4 M659.6,317.2 L659.0,315.3 M659.6,308.2 L657.4,306.7 M659.6,299.1 L656.4,297.6 M659.6,290.1 L655.5,288.6 M659.6,281.0 L655.5,279.0 M659.6,272.0 L655.5,269.4 M659.6,262.9 L655.9,260.3 M659.6,253.8 L656.4,251.2 M659.6,244.8 L659.9,241.8 M659.6,235.7 L663.4,232.4 M659.6,226.7 L663.6,223.9 M659.6,217.6 L663.8,215.4 M659.6,208.6 L663.8,206.9 M659.6,199.5 L663.9,198.4 M659.6,190.5 L663.7,189.5 M659.6,181.4 L663.6,180.7 M659.6,172.4 L663.5,171.8 M659.6,163.3 L663.3,163.0 M667.8,344.4 L665.3,341.5 M667.8,335.3 L667.1,332.4 M667.8,326.3 L668.8,323.4 M667.8,317.2 L667.0,315.2 M667.8,308.2 L665.1,306.6 M667.8,299.1 L664.3,297.6 M667.8,290.1 L663.6,288.5 M667.8,281.0 L663.6,279.0 M667.8,272.0 L663.6,269.6 M667.8,262.9 L664.1,260.4 M667.8,253.8 L664.6,251.2 M667.8,244.8 L668.2,241.8 M667.8,235.7 L671.7,232.4 M667.8,226.7 L671.9,223.9 M667.8,217.6 L672.0,215.4 M667.8,208.6 L672.1,206.9 M667.8,199.5 L672.1,198.4 M667.8,190.5 L672.0,189.5 M667.8,181.4 L671.8,180.7 M667.8,172.4 L671.7,171.8 M667.8,163.3 L671.5,163.0 M676.0,344.4 L673.6,341.5 M676.0,335.3 L675.2,332.4 M676.0,326.3 L676.9,323.3 M676.0,317.2 L675.0,315.2 M676.0,308.2 L672.9,306.8 M676.0,299.1 L672.2,297.6 M676.0,290.1 L671.6,288.5 M676.0,281.0 L671.7,279.1 M676.0,272.0 L671.7,269.7 M676.0,262.9 L672.2,260.5 M676.0,253.8 L672.7,251.3 M676.0,244.8 L676.3,241.9 M676.0,235.7 L679.9,232.4 M676.0,226.7 L680.1,223.9 M676.0,217.6 L680.2,215.4 M676.0,208.6 L680.3,206.9 M676.0,199.5 L680.3,198.4 M676.0,190.5 L680.2,189.5 M676.0,181.4 L680.1,180.7 M676.0,172.4 L679.9,171.8 M676.0,163.3 L679.8,163.0 M684.2,344.4 L681.8,341.5 M684.2,335.3 L683.4,332.4 M684.2,326.3 L685.0,323.3 M684.2,317.2 L682.9,315.2 M684.2,308.2 L680.6,306.9 M684.2,299.1 L680.2,297.7 M684.2,290.1 L679.7,288.4 M684.2,281.0 L679.8,279.2 M684.2,272.0 L679.8,269.9 M684.2,262.9 L680.3,260.7 M684.2,253.8 L680.8,251.5 M684.2,244.8 L684.5,242.0 M684.2,235.7 L688.2,232.4 M684.2,226.7 L688.3,223.9 M684.2,217.6 L688.5,215.4 M684.2,208.6 L688.5,206.9 M684.2,199.5 L688.5,198.4 M684.2,190.5 L688.4,189.5 M684.2,181.4 L688.3,180.7 M684.2,172.4 L688.1,171.8 M684.2,163.3 L688.0,163.0" stroke="#000" stroke-width="0.9" fill="none"/><path d="M388.9,338.4 L389.7,340.9 L388.8,340.3 L387.7,340.7 Z M392.6,328.5 L392.0,331.9 L391.3,330.6 L389.8,330.6 Z M396.2,318.5 L394.2,322.7 L393.8,320.9 L391.9,320.5 Z M401.1,309.8 L396.6,314.9 L396.7,312.3 L394.4,311.2 Z M406.0,301.1 L399.4,306.6 L400.1,303.5 L397.4,301.7 Z M406.0,290.9 L399.7,296.7 L400.2,293.6 L397.5,292.0 Z M406.1,280.7 L400.1,286.9 L400.4,283.7 L397.6,282.2 Z M403.6,273.4 L398.0,278.9 L398.4,276.0 L395.8,274.5 Z M401.1,266.0 L396.4,270.5 L396.7,268.1 L394.6,266.8 Z M397.7,259.9 L394.4,262.5 L394.8,260.9 L393.6,259.7 Z M394.4,253.8 L392.0,254.9 L392.5,253.8 L392.0,252.8 Z M389.5,248.9 L388.3,247.4 L389.2,247.6 L389.9,247.0 Z M384.6,243.9 L384.9,240.1 L385.8,241.4 L387.3,241.2 Z M383.3,235.3 L384.1,231.1 L384.9,232.6 L386.6,232.6 Z M382.1,226.6 L383.3,222.1 L384.1,223.8 L385.9,223.9 Z M384.0,216.6 L384.5,212.7 L385.3,214.1 L386.9,214.1 Z M385.8,206.6 L385.7,203.3 L386.6,204.4 L388.0,204.2 Z M387.0,196.0 L386.6,193.5 L387.5,194.3 L388.5,194.0 Z M388.3,185.4 L387.5,183.7 L388.3,184.1 L389.1,183.7 Z M388.3,176.1 L387.5,174.4 L388.4,174.8 L389.2,174.4 Z M388.4,166.8 L387.6,165.1 L388.4,165.5 L389.2,165.1 Z M397.5,339.2 L398.1,341.5 L397.2,340.9 L396.2,341.2 Z M401.4,329.4 L400.4,332.6 L399.9,331.3 L398.5,331.1 Z M405.3,319.7 L402.8,323.6 L402.6,321.7 L400.9,321.1 Z M409.8,310.5 L405.0,315.4 L405.3,312.8 L403.0,311.5 Z M414.4,301.4 L407.6,306.8 L408.4,303.7 L405.7,301.8 Z M414.7,291.2 L408.2,296.9 L408.8,293.7 L406.1,292.0 Z M415.0,280.9 L408.8,287.0 L409.2,283.8 L406.4,282.2 Z M412.8,273.2 L406.8,278.9 L407.3,275.9 L404.6,274.3 Z M410.7,265.4 L405.4,270.3 L405.8,267.7 L403.5,266.2 Z M406.6,259.2 L403.1,262.2 L403.5,260.4 L402.1,259.3 Z M402.5,253.1 L400.3,254.4 L400.7,253.3 L400.0,252.4 Z M399.0,247.6 L397.3,246.9 L398.2,246.6 L398.6,245.8 Z M395.6,242.2 L394.9,239.4 L395.9,240.2 L397.1,239.8 Z M391.1,235.6 L392.0,231.2 L392.8,232.8 L394.6,232.8 Z M390.3,226.6 L391.5,222.1 L392.3,223.8 L394.1,223.9 Z M392.2,216.6 L392.7,212.7 L393.6,214.1 L395.2,214.1 Z M394.1,206.6 L394.0,203.3 L394.9,204.4 L396.2,204.2 Z M395.2,196.0 L394.8,193.5 L395.7,194.3 L396.7,194.0 Z M396.4,185.4 L395.7,183.7 L396.5,184.1 L397.3,183.8 Z M396.5,176.1 L395.7,174.4 L396.5,174.8 L397.4,174.4 Z M396.6,166.8 L395.8,165.1 L396.6,165.5 L397.4,165.1 Z M406.0,340.1 L406.4,342.0 L405.6,341.4 L404.7,341.6 Z M410.2,330.4 L408.8,333.2 L408.5,332.0 L407.3,331.5 Z M414.4,320.8 L411.3,324.4 L411.4,322.5 L409.8,321.6 Z M418.5,311.2 L413.4,315.9 L413.8,313.3 L411.6,311.9 Z M422.7,301.7 L415.9,307.0 L416.7,303.9 L414.1,302.0 Z M423.3,291.4 L416.7,297.0 L417.4,293.9 L414.7,292.2 Z M423.9,281.2 L417.6,287.1 L418.1,283.9 L415.3,282.3 Z M422.1,273.0 L415.7,278.8 L416.3,275.7 L413.5,274.1 Z M420.2,264.8 L414.5,270.2 L415.0,267.2 L412.4,265.7 Z M415.4,258.5 L411.8,261.8 L412.1,259.9 L410.6,258.8 Z M410.6,252.3 L408.6,253.9 L408.8,252.8 L408.0,251.9 Z M409.8,245.2 L407.6,246.0 L408.2,245.1 L407.8,244.1 Z M406.5,240.4 L404.9,238.8 L406.0,238.9 L406.7,238.1 Z M401.5,233.9 L401.7,230.5 L402.5,231.7 L403.9,231.6 Z M398.5,226.6 L399.8,222.1 L400.5,223.8 L402.3,223.9 Z M400.4,216.6 L401.0,212.7 L401.8,214.1 L403.4,214.1 Z M402.3,206.6 L402.2,203.3 L403.1,204.4 L404.4,204.2 Z M403.4,196.0 L403.0,193.5 L403.8,194.3 L404.9,194.0 Z M404.5,185.4 L403.8,183.6 L404.6,184.1 L405.5,183.8 Z M404.6,176.1 L403.9,174.3 L404.7,174.8 L405.5,174.5 Z M404.7,166.8 L403.9,165.1 L404.8,165.5 L405.6,165.1 Z M414.9,340.7 L414.9,342.6 L414.3,341.9 L413.4,341.8 Z M419.2,331.2 L417.4,333.8 L417.3,332.5 L416.1,331.9 Z M423.5,321.7 L420.0,325.0 L420.3,323.1 L418.7,322.0 Z M427.2,312.4 L421.7,316.6 L422.3,314.0 L420.2,312.4 Z M430.8,303.1 L423.7,307.8 L424.7,304.8 L422.3,302.8 Z M431.5,293.1 L424.5,298.1 L425.4,295.1 L422.9,293.1 Z M432.2,283.0 L425.4,288.3 L426.2,285.2 L423.6,283.4 Z M430.6,274.6 L423.8,279.9 L424.6,276.8 L422.0,274.9 Z M429.0,266.2 L422.8,271.0 L423.5,268.2 L421.1,266.4 Z M424.3,258.3 L420.0,262.1 L420.4,259.9 L418.7,258.6 Z M419.6,250.5 L417.5,252.9 L417.6,251.5 L416.5,250.8 Z M418.2,241.8 L416.7,243.9 L416.6,242.7 L415.7,242.1 Z M414.7,239.4 L413.2,238.2 L414.1,238.2 L414.7,237.5 Z M412.2,231.6 L411.6,229.5 L412.5,230.1 L413.4,229.8 Z M407.3,225.2 L408.5,221.3 L409.1,222.8 L410.7,223.0 Z M408.9,215.2 L409.5,211.9 L410.2,213.1 L411.6,213.2 Z M410.5,205.2 L410.6,202.5 L411.3,203.4 L412.5,203.4 Z M411.7,195.2 L411.4,193.0 L412.1,193.7 L413.1,193.5 Z M412.9,185.2 L412.1,183.4 L412.9,183.8 L413.8,183.5 Z M413.1,175.8 L412.3,174.1 L413.1,174.5 L413.9,174.1 Z M413.4,166.5 L412.4,164.9 L413.2,165.2 L414.0,164.7 Z M423.8,341.3 L423.4,343.2 L423.0,342.4 L422.1,342.1 Z M428.3,332.0 L426.0,334.4 L426.1,333.0 L424.9,332.2 Z M432.7,322.6 L428.6,325.7 L429.1,323.7 L427.6,322.5 Z M435.8,313.5 L429.9,317.3 L430.8,314.8 L428.8,313.0 Z M438.9,304.4 L431.7,308.6 L432.8,305.7 L430.6,303.6 Z M439.7,294.7 L432.4,299.2 L433.5,296.2 L431.1,294.0 Z M440.6,284.9 L433.3,289.6 L434.4,286.5 L432.0,284.5 Z M439.1,276.2 L432.0,280.9 L433.0,277.9 L430.6,275.8 Z M437.7,267.6 L431.1,271.9 L432.1,269.1 L429.8,267.1 Z M433.2,258.1 L428.6,262.0 L429.1,259.8 L427.2,258.4 Z M428.6,248.7 L426.5,251.9 L426.3,250.3 L424.9,249.6 Z M426.9,239.1 L425.5,242.3 L425.2,240.9 L423.8,240.5 Z M422.8,238.3 L421.2,237.3 L422.1,237.2 L422.6,236.5 Z M419.9,230.4 L419.7,228.6 L420.4,229.2 L421.3,229.1 Z M416.1,223.8 L417.2,220.5 L417.7,221.8 L419.1,222.1 Z M418.7,211.6 L419.2,209.8 L419.5,210.6 L420.4,210.9 Z M418.8,203.9 L419.0,201.6 L419.6,202.4 L420.6,202.5 Z M420.0,194.4 L419.7,192.5 L420.4,193.1 L421.3,193.0 Z M421.3,184.9 L420.4,183.2 L421.3,183.6 L422.1,183.2 Z M421.7,175.6 L420.6,174.0 L421.5,174.2 L422.3,173.8 Z M422.0,166.2 L420.8,164.8 L421.7,164.9 L422.4,164.3 Z M433.5,340.6 L432.5,342.8 L432.2,341.8 L431.2,341.4 Z M437.5,331.7 L434.8,334.4 L435.0,332.8 L433.7,331.9 Z M441.5,322.8 L436.7,326.1 L437.4,324.0 L435.7,322.5 Z M444.1,314.2 L438.1,317.7 L439.1,315.2 L437.2,313.4 Z M446.8,305.6 L439.5,309.2 L440.8,306.5 L438.8,304.2 Z M447.4,296.1 L440.0,300.0 L441.3,297.2 L439.1,294.9 Z M448.1,286.7 L440.5,290.8 L441.8,287.8 L439.6,285.6 Z M446.7,278.2 L439.5,281.9 L440.8,279.2 L438.7,277.0 Z M445.2,269.8 L438.6,273.0 L439.8,270.5 L438.0,268.4 Z M440.7,260.6 L436.5,263.1 L437.2,261.4 L435.9,260.0 Z M436.2,251.5 L433.9,253.5 L434.1,252.3 L433.1,251.4 Z M434.1,240.9 L432.9,243.3 L432.6,242.1 L431.6,241.7 Z M431.5,237.8 L429.7,237.2 L430.6,236.9 L430.9,236.0 Z M426.9,229.7 L427.4,227.9 L427.8,228.7 L428.6,229.0 Z M426.8,219.9 L427.6,218.2 L427.8,219.0 L428.6,219.4 Z M427.0,211.0 L427.6,209.3 L427.9,210.1 L428.8,210.4 Z M427.0,202.5 L427.4,200.7 L427.8,201.5 L428.7,201.8 Z M430.0,184.0 L428.9,182.5 L429.7,182.7 L430.5,182.2 Z M430.3,175.0 L429.0,173.7 L429.9,173.8 L430.6,173.2 Z M430.6,166.0 L429.2,164.8 L430.1,164.8 L430.7,164.2 Z M443.1,339.9 L441.6,342.6 L441.4,341.3 L440.2,340.8 Z M446.7,331.4 L443.7,334.3 L443.9,332.6 L442.5,331.7 Z M450.3,322.9 L445.2,326.3 L445.9,324.1 L444.2,322.5 Z M452.4,314.8 L446.3,318.0 L447.4,315.6 L445.6,313.7 Z M454.6,306.7 L447.4,309.8 L448.8,307.2 L447.0,304.9 Z M455.1,297.6 L447.7,300.8 L449.2,298.1 L447.2,295.8 Z M455.6,288.5 L448.0,291.7 L449.5,289.0 L447.5,286.6 Z M454.2,280.2 L447.0,283.0 L448.5,280.5 L446.8,278.2 Z M452.7,272.0 L446.1,274.2 L447.6,272.0 L446.1,269.8 Z M448.2,263.2 L444.0,264.6 L444.9,263.1 L444.0,261.5 Z M443.7,254.4 L441.2,255.2 L441.8,254.2 L441.4,253.1 Z M441.7,244.8 L440.0,245.6 L440.4,244.8 L440.0,244.0 Z M440.3,237.2 L438.4,237.1 L439.2,236.6 L439.2,235.7 Z M435.1,229.7 L435.6,227.9 L436.0,228.7 L436.9,229.0 Z M434.8,219.6 L435.8,218.0 L435.9,218.9 L436.7,219.3 Z M435.0,210.8 L435.8,209.1 L436.0,210.0 L436.9,210.4 Z M435.2,201.2 L436.2,199.6 L436.3,200.5 L437.1,200.9 Z M438.7,183.1 L437.1,182.1 L438.0,182.0 L438.6,181.3 Z M439.0,174.5 L437.4,173.5 L438.3,173.4 L438.8,172.6 Z M439.2,165.9 L437.6,164.8 L438.5,164.7 L439.1,164.0 Z M451.7,339.6 L450.1,342.4 L449.9,341.1 L448.6,340.6 Z M455.3,331.2 L452.2,334.2 L452.4,332.5 L450.9,331.5 Z M459.0,322.8 L453.7,326.3 L454.5,324.0 L452.7,322.4 Z M460.4,314.8 L454.4,318.0 L455.4,315.6 L453.7,313.7 Z M461.9,306.8 L455.0,309.7 L456.4,307.3 L454.6,305.1 Z M462.4,298.4 L455.2,301.1 L456.7,298.6 L455.0,296.3 Z M462.9,290.0 L455.4,292.5 L457.0,290.0 L455.4,287.6 Z M461.3,281.5 L454.5,283.6 L456.0,281.4 L454.6,279.1 Z M459.8,273.1 L453.5,274.7 L455.0,272.7 L453.9,270.5 Z M455.8,263.9 L451.7,264.9 L452.7,263.6 L452.0,262.0 Z M451.9,254.6 L449.3,255.3 L450.0,254.4 L449.6,253.3 Z M450.1,246.3 L448.2,246.5 L448.8,245.9 L448.7,244.9 Z M449.2,236.1 L447.4,236.8 L447.9,236.0 L447.6,235.1 Z M443.1,229.5 L443.7,227.7 L444.0,228.6 L444.9,228.9 Z M442.5,219.6 L443.5,218.1 L443.6,219.0 L444.3,219.5 Z M443.1,210.6 L444.0,208.9 L444.1,209.8 L444.9,210.3 Z M443.1,202.0 L443.8,200.2 L444.1,201.1 L444.9,201.5 Z M447.4,183.7 L445.8,182.7 L446.7,182.6 L447.2,181.8 Z M447.7,174.9 L446.0,174.0 L446.9,173.8 L447.4,173.1 Z M448.0,166.1 L446.3,165.2 L447.2,165.1 L447.6,164.3 Z M460.3,339.3 L458.6,342.3 L458.4,340.9 L457.0,340.4 Z M464.0,331.0 L460.7,334.1 L460.9,332.3 L459.4,331.3 Z M467.7,322.7 L462.2,326.3 L463.0,323.9 L461.2,322.3 Z M468.4,314.8 L462.5,318.0 L463.5,315.6 L461.7,313.8 Z M469.1,306.9 L462.7,309.6 L463.9,307.3 L462.3,305.3 Z M469.6,299.2 L462.8,301.4 L464.3,299.2 L462.8,296.9 Z M470.1,291.5 L462.9,293.2 L464.6,291.0 L463.3,288.5 Z M468.5,282.8 L461.9,284.2 L463.6,282.2 L462.5,279.9 Z M466.9,274.2 L461.0,275.1 L462.5,273.4 L461.6,271.3 Z M463.5,264.6 L459.5,265.3 L460.6,264.0 L460.0,262.5 Z M460.0,254.9 L457.5,255.5 L458.2,254.6 L457.9,253.5 Z M457.5,245.7 L455.7,246.1 L456.2,245.4 L456.1,244.5 Z M458.1,235.0 L456.5,236.2 L456.8,235.3 L456.3,234.5 Z M449.5,230.5 L450.7,228.2 L451.0,229.3 L452.0,229.8 Z M449.5,221.5 L450.7,219.2 L451.0,220.3 L452.0,220.7 Z M450.2,212.1 L451.2,210.0 L451.5,211.0 L452.4,211.4 Z M451.0,202.7 L451.6,200.8 L451.9,201.7 L452.8,202.0 Z M456.1,184.3 L454.5,183.4 L455.4,183.2 L455.8,182.4 Z M456.4,175.3 L454.7,174.5 L455.6,174.3 L456.0,173.5 Z M456.7,166.4 L455.0,165.6 L455.9,165.3 L456.2,164.5 Z M468.2,339.0 L466.7,342.1 L466.4,340.7 L465.0,340.2 Z M472.0,330.7 L468.8,333.9 L469.0,332.1 L467.5,331.1 Z M475.8,322.3 L470.5,326.1 L471.2,323.7 L469.3,322.1 Z M476.2,314.2 L470.6,317.6 L471.5,315.2 L469.7,313.5 Z M476.7,306.1 L470.7,309.1 L471.8,306.8 L470.1,304.9 Z M477.2,298.4 L470.8,300.9 L472.1,298.7 L470.6,296.5 Z M477.8,290.8 L470.9,292.7 L472.5,290.5 L471.1,288.2 Z M476.3,282.3 L469.9,283.8 L471.5,281.9 L470.3,279.7 Z M474.7,273.9 L469.0,274.9 L470.5,273.2 L469.6,271.2 Z M471.7,264.3 L467.8,265.1 L468.8,263.9 L468.2,262.3 Z M468.8,254.7 L466.1,255.4 L466.8,254.4 L466.4,253.3 Z M466.3,244.1 L464.8,245.2 L465.0,244.3 L464.5,243.6 Z M466.6,233.8 L465.2,235.4 L465.3,234.4 L464.5,233.8 Z M457.4,230.1 L458.8,227.9 L459.0,229.1 L460.0,229.6 Z M457.5,221.1 L458.8,218.9 L459.0,220.0 L460.0,220.5 Z M458.1,212.1 L459.2,209.9 L459.5,211.0 L460.4,211.4 Z M458.8,203.1 L459.6,200.9 L460.0,201.9 L461.0,202.2 Z M464.6,184.7 L463.0,183.8 L463.9,183.6 L464.3,182.8 Z M464.9,175.6 L463.2,174.8 L464.1,174.5 L464.5,173.7 Z M465.2,166.4 L463.5,165.7 L464.3,165.4 L464.7,164.6 Z M476.2,338.7 L474.8,341.9 L474.5,340.5 L473.1,340.1 Z M480.1,330.4 L477.0,333.7 L477.1,331.9 L475.5,331.0 Z M483.9,322.0 L478.7,325.8 L479.3,323.4 L477.4,321.9 Z M484.1,313.6 L478.7,317.2 L479.4,314.9 L477.6,313.2 Z M484.3,305.3 L478.7,308.6 L479.6,306.3 L477.8,304.5 Z M484.9,297.7 L478.8,300.4 L480.0,298.2 L478.4,296.2 Z M485.6,290.1 L479.0,292.3 L480.4,290.1 L479.0,287.9 Z M484.0,281.9 L478.0,283.5 L479.4,281.6 L478.2,279.5 Z M482.5,273.6 L477.0,274.7 L478.4,273.1 L477.5,271.1 Z M480.0,264.0 L476.1,265.0 L477.1,263.7 L476.4,262.2 Z M477.5,254.5 L474.7,255.3 L475.4,254.3 L474.9,253.1 Z M476.3,243.5 L474.2,245.0 L474.5,243.9 L473.8,243.0 Z M475.1,232.6 L473.8,234.6 L473.7,233.6 L472.7,233.1 Z M465.7,230.1 L467.0,227.9 L467.2,229.1 L468.2,229.6 Z M465.4,220.6 L466.9,218.5 L467.0,219.7 L468.0,220.3 Z M466.0,212.0 L467.2,209.9 L467.4,210.9 L468.4,211.4 Z M466.7,203.4 L467.6,201.2 L467.9,202.2 L468.9,202.5 Z M469.9,194.3 L469.4,192.4 L470.1,192.9 L471.0,192.7 Z M473.1,185.1 L471.4,184.1 L472.3,183.9 L472.8,183.1 Z M473.4,175.8 L471.6,175.0 L472.5,174.7 L472.9,173.9 Z M473.7,166.5 L471.9,165.8 L472.8,165.5 L473.1,164.6 Z M484.4,338.7 L483.1,341.9 L482.7,340.5 L481.3,340.1 Z M488.2,330.1 L485.2,333.6 L485.3,331.8 L483.7,330.9 Z M491.9,321.5 L486.9,325.6 L487.4,323.1 L485.4,321.7 Z M492.1,313.0 L486.9,316.9 L487.5,314.5 L485.6,312.9 Z M492.3,304.6 L486.9,308.2 L487.7,305.8 L485.8,304.2 Z M493.0,296.5 L487.1,299.8 L488.1,297.4 L486.3,295.6 Z M493.6,288.5 L487.3,291.4 L488.5,289.0 L486.9,287.0 Z M491.8,279.9 L486.3,282.4 L487.4,280.3 L485.9,278.5 Z M490.0,271.4 L485.6,273.2 L486.5,271.6 L485.5,270.0 Z M485.1,256.5 L483.6,260.0 L483.2,258.5 L481.6,258.1 Z M483.3,250.3 L482.1,252.5 L481.9,251.4 L480.9,250.9 Z M481.7,238.5 L481.6,241.5 L480.8,240.4 L479.5,240.5 Z M483.3,231.5 L482.2,233.9 L481.9,232.8 L480.8,232.4 Z M473.8,230.9 L475.1,228.4 L475.4,229.6 L476.5,230.0 Z M473.5,221.0 L475.1,218.8 L475.2,219.9 L476.2,220.5 Z M474.4,212.2 L475.5,210.0 L475.8,211.1 L476.8,211.5 Z M475.2,203.4 L476.0,201.2 L476.3,202.2 L477.4,202.5 Z M478.5,194.3 L477.8,192.5 L478.6,193.0 L479.4,192.7 Z M481.7,185.2 L479.8,184.2 L480.8,184.0 L481.2,183.1 Z M481.9,175.8 L480.0,175.0 L480.9,174.7 L481.3,173.8 Z M482.1,166.3 L480.2,165.8 L481.1,165.4 L481.3,164.5 Z M492.7,338.7 L491.3,341.9 L490.9,340.5 L489.5,340.1 Z M496.3,329.9 L493.4,333.4 L493.4,331.6 L491.8,330.7 Z M500.0,321.0 L495.0,325.3 L495.5,322.8 L493.5,321.4 Z M500.1,312.4 L495.1,316.5 L495.6,314.1 L493.7,312.6 Z M500.3,303.9 L495.1,307.7 L495.7,305.3 L493.8,303.8 Z M501.0,295.4 L495.4,299.1 L496.2,296.7 L494.3,295.0 Z M501.7,287.0 L495.7,290.5 L496.6,288.0 L494.8,286.2 Z M499.6,278.0 L494.5,281.2 L495.3,279.1 L493.6,277.4 Z M497.6,269.1 L493.8,271.8 L494.3,270.0 L493.0,268.7 Z M492.2,255.5 L491.2,259.3 L490.6,257.8 L489.0,257.7 Z M489.1,246.1 L489.4,249.5 L488.4,248.5 L487.0,248.9 Z M489.7,237.3 L489.8,240.7 L488.9,239.6 L487.5,239.9 Z M491.5,230.4 L490.6,233.3 L490.1,232.1 L488.8,231.8 Z M482.0,230.9 L483.3,228.4 L483.6,229.6 L484.7,230.0 Z M481.7,221.4 L483.2,219.0 L483.3,220.2 L484.4,220.7 Z M482.7,212.4 L483.8,210.1 L484.1,211.2 L485.1,211.6 Z M483.8,203.4 L484.4,201.1 L484.8,202.1 L485.9,202.4 Z M487.0,194.3 L486.2,192.6 L487.0,193.0 L487.8,192.6 Z M490.2,185.2 L488.1,184.2 L489.2,184.0 L489.6,183.0 Z M490.3,175.7 L488.4,175.0 L489.3,174.7 L489.6,173.8 Z M490.4,166.2 L488.5,165.7 L489.4,165.3 L489.6,164.4 Z M500.3,338.9 L499.1,341.9 L498.7,340.6 L497.4,340.3 Z M503.9,329.9 L501.2,333.4 L501.2,331.6 L499.7,330.8 Z M507.6,320.9 L503.0,325.1 L503.3,322.8 L501.4,321.4 Z M508.0,312.2 L503.1,316.3 L503.6,313.9 L501.6,312.5 Z M508.4,303.4 L503.3,307.4 L503.9,305.0 L501.9,303.6 Z M508.9,294.5 L503.6,298.6 L504.2,296.1 L502.2,294.5 Z M509.5,285.7 L503.9,289.7 L504.6,287.2 L502.6,285.5 Z M507.5,277.0 L502.7,280.6 L503.3,278.3 L501.5,276.9 Z M505.5,268.2 L501.9,271.2 L502.3,269.4 L500.9,268.2 Z M501.0,256.0 L499.7,259.6 L499.2,258.2 L497.6,257.9 Z M498.2,245.9 L498.2,249.5 L497.2,248.4 L495.8,248.6 Z M499.0,236.6 L498.7,240.5 L497.8,239.2 L496.3,239.3 Z M499.7,230.4 L498.8,233.3 L498.3,232.1 L497.0,231.8 Z M491.0,230.9 L491.9,228.5 L492.3,229.6 L493.4,230.0 Z M490.1,221.6 L491.5,219.1 L491.7,220.3 L492.8,220.9 Z M491.7,212.5 L492.4,210.3 L492.8,211.3 L493.8,211.6 Z M493.3,203.4 L493.3,201.5 L493.9,202.2 L494.8,202.2 Z M496.1,193.8 L494.8,192.4 L495.7,192.6 L496.5,192.0 Z M498.9,184.3 L496.9,183.8 L497.7,183.4 L497.9,182.4 Z M498.9,175.0 L496.9,174.6 L497.8,174.2 L497.9,173.2 Z M499.0,165.7 L497.0,165.5 L497.8,164.9 L497.9,164.0 Z M507.9,339.0 L507.0,341.9 L506.5,340.7 L505.3,340.5 Z M511.6,329.9 L509.1,333.3 L509.0,331.6 L507.5,330.9 Z M515.2,320.8 L510.9,325.0 L511.2,322.7 L509.2,321.4 Z M515.8,311.9 L511.2,316.1 L511.6,313.7 L509.6,312.4 Z M516.4,302.9 L511.5,307.2 L512.0,304.7 L509.9,303.3 Z M516.9,293.7 L511.8,298.1 L512.3,295.6 L510.2,294.1 Z M517.3,284.5 L512.0,289.0 L512.6,286.4 L510.4,284.9 Z M515.4,275.9 L510.9,279.9 L511.3,277.6 L509.3,276.3 Z M513.4,267.3 L510.1,270.6 L510.3,268.8 L508.7,267.7 Z M509.8,256.5 L508.2,260.0 L507.8,258.5 L506.3,258.1 Z M507.2,245.7 L506.9,249.5 L506.1,248.2 L504.5,248.4 Z M507.4,237.9 L506.9,241.3 L506.2,240.0 L504.8,240.0 Z M507.9,230.4 L507.0,233.3 L506.5,232.1 L505.3,231.8 Z M499.2,230.9 L500.2,228.5 L500.5,229.6 L501.6,230.0 Z M498.5,221.8 L499.8,219.3 L500.0,220.5 L501.1,221.0 Z M500.6,212.6 L501.0,210.5 L501.5,211.4 L502.5,211.5 Z M502.7,203.5 L502.2,201.6 L503.0,202.2 L503.8,201.9 Z M505.1,193.4 L503.6,192.3 L504.5,192.2 L505.0,191.5 Z M507.5,183.3 L505.5,183.3 L506.2,182.7 L506.2,181.8 Z M507.5,174.3 L505.5,174.3 L506.2,173.7 L506.2,172.7 Z M507.5,165.2 L505.5,165.2 L506.2,164.6 L506.2,163.7 Z M515.9,338.9 L515.1,341.8 L514.6,340.6 L513.3,340.4 Z M519.3,329.7 L517.1,333.1 L516.9,331.5 L515.4,330.8 Z M522.7,320.5 L518.7,324.7 L518.9,322.5 L517.0,321.4 Z M523.8,312.1 L519.2,316.2 L519.6,313.9 L517.7,312.6 Z M524.9,303.7 L519.7,307.7 L520.4,305.3 L518.4,303.7 Z M525.5,295.0 L520.0,298.8 L520.7,296.4 L518.8,294.8 Z M526.0,286.2 L520.3,290.0 L521.1,287.5 L519.1,285.8 Z M524.2,277.1 L519.3,280.7 L519.9,278.5 L518.1,277.0 Z M522.4,268.1 L518.7,271.2 L519.1,269.3 L517.6,268.1 Z M519.2,257.7 L517.0,260.9 L516.9,259.3 L515.4,258.6 Z M516.0,247.3 L515.3,250.6 L514.7,249.3 L513.3,249.2 Z M515.4,239.0 L514.8,241.9 L514.2,240.8 L513.0,240.7 Z M514.8,230.7 L514.4,233.3 L513.8,232.3 L512.7,232.2 Z M508.4,230.5 L509.1,228.3 L509.5,229.3 L510.5,229.5 Z M507.4,221.5 L508.4,219.2 L508.7,220.3 L509.8,220.7 Z M509.6,212.2 L509.7,210.3 L510.3,211.0 L511.2,211.1 Z M511.8,202.9 L510.9,201.2 L511.8,201.6 L512.6,201.2 Z M513.8,193.0 L512.1,192.3 L513.0,192.0 L513.3,191.2 Z M515.8,183.1 L513.8,183.2 L514.5,182.6 L514.5,181.7 Z M515.7,174.0 L513.8,174.1 L514.4,173.5 L514.4,172.6 Z M515.6,164.9 L513.7,165.0 L514.3,164.4 L514.3,163.5 Z M523.9,338.7 L523.2,341.6 L522.6,340.5 L521.3,340.3 Z M527.1,329.5 L525.1,332.9 L524.8,331.3 L523.3,330.7 Z M530.3,320.3 L526.6,324.5 L526.7,322.3 L524.8,321.3 Z M531.8,312.4 L527.3,316.3 L527.7,314.1 L525.8,312.7 Z M533.4,304.6 L528.0,308.2 L528.7,305.8 L526.9,304.1 Z M534.1,296.3 L528.2,299.6 L529.2,297.2 L527.4,295.4 Z M534.7,288.0 L528.5,291.1 L529.6,288.7 L527.9,286.7 Z M533.1,278.4 L527.7,281.5 L528.6,279.3 L526.9,277.6 Z M531.5,268.9 L526.8,272.0 L527.5,269.9 L525.9,268.5 Z M528.1,258.9 L525.4,261.7 L525.6,260.1 L524.2,259.2 Z M524.8,248.9 L523.6,251.7 L523.3,250.4 L522.0,250.1 Z M523.2,240.0 L522.7,242.5 L522.2,241.5 L521.0,241.3 Z M521.6,231.0 L521.8,233.3 L521.0,232.6 L520.0,232.7 Z M517.9,230.1 L518.0,228.3 L518.5,229.0 L519.4,229.1 Z M523.2,218.8 L521.3,219.0 L521.9,218.4 L521.8,217.5 Z M518.6,211.8 L518.5,209.9 L519.1,210.5 L520.0,210.5 Z M520.9,202.3 L519.5,201.0 L520.4,201.1 L521.1,200.5 Z M522.5,192.6 L520.7,192.2 L521.5,191.8 L521.7,190.9 Z M524.1,182.9 L522.1,183.1 L522.8,182.5 L522.7,181.5 Z M523.9,173.8 L522.0,174.0 L522.6,173.4 L522.5,172.5 Z M523.6,164.7 L521.7,164.9 L522.4,164.2 L522.3,163.3 Z M531.6,338.9 L531.1,341.7 L530.5,340.6 L529.3,340.5 Z M534.4,329.5 L532.7,332.8 L532.4,331.3 L531.0,330.9 Z M537.1,320.1 L534.4,323.9 L534.3,322.0 L532.6,321.3 Z M539.2,312.9 L535.4,316.2 L535.7,314.3 L534.2,313.1 Z M541.3,305.8 L535.9,308.8 L536.8,306.6 L535.1,304.9 Z M541.9,297.4 L536.1,300.2 L537.2,298.0 L535.6,296.1 Z M542.5,289.0 L536.3,291.6 L537.6,289.4 L536.0,287.4 Z M540.9,279.0 L535.5,281.8 L536.5,279.7 L534.9,278.0 Z M539.2,269.0 L535.2,271.8 L535.7,269.9 L534.3,268.6 Z M535.6,258.9 L533.2,261.6 L533.3,260.1 L532.0,259.3 Z M532.1,248.8 L531.3,251.5 L530.8,250.4 L529.6,250.1 Z M530.5,239.8 L530.4,242.2 L529.8,241.4 L528.7,241.4 Z M529.0,230.9 L529.5,233.0 L528.7,232.4 L527.8,232.7 Z M527.5,225.9 L529.2,226.8 L528.3,227.0 L527.8,227.8 Z M531.7,219.3 L529.8,219.4 L530.5,218.8 L530.5,217.9 Z M527.8,211.3 L527.1,209.6 L527.9,210.0 L528.8,209.7 Z M529.5,201.8 L527.9,200.8 L528.8,200.7 L529.3,199.9 Z M530.8,192.3 L528.9,192.0 L529.7,191.5 L529.8,190.6 Z M532.1,182.7 L530.3,183.0 L530.9,182.3 L530.8,181.4 Z M532.0,173.6 L530.1,173.9 L530.7,173.2 L530.6,172.3 Z M531.9,164.5 L530.0,164.8 L530.6,164.1 L530.5,163.2 Z M539.3,339.2 L539.0,341.8 L538.4,340.8 L537.2,340.8 Z M541.6,329.5 L540.4,332.7 L540.0,331.3 L538.6,331.0 Z M544.0,319.9 L541.8,323.6 L541.6,321.9 L540.0,321.3 Z M546.6,313.5 L543.0,316.4 L543.4,314.6 L541.9,313.5 Z M549.3,307.0 L543.7,309.5 L544.8,307.4 L543.4,305.6 Z M549.8,298.6 L543.9,300.8 L545.2,298.8 L543.8,296.8 Z M550.3,290.1 L544.1,292.1 L545.5,290.1 L544.1,288.0 Z M548.6,279.6 L543.4,282.1 L544.4,280.1 L543.0,278.4 Z M546.9,269.1 L543.1,271.8 L543.6,270.0 L542.3,268.7 Z M543.1,258.9 L541.0,261.6 L541.0,260.1 L539.8,259.4 Z M539.3,248.7 L539.0,251.2 L538.4,250.3 L537.2,250.2 Z M537.9,239.7 L538.2,242.0 L537.4,241.3 L536.3,241.5 Z M536.5,230.7 L537.4,232.9 L536.4,232.4 L535.5,232.8 Z M536.1,225.7 L537.2,227.2 L536.4,227.0 L535.6,227.5 Z M539.6,219.9 L537.7,219.6 L538.5,219.2 L538.7,218.3 Z M536.9,210.9 L535.7,209.5 L536.6,209.7 L537.3,209.1 Z M538.1,201.3 L536.3,200.7 L537.1,200.4 L537.5,199.5 Z M539.1,191.9 L537.2,191.8 L537.9,191.3 L538.0,190.4 Z M540.2,182.4 L538.3,182.8 L538.9,182.1 L538.7,181.2 Z M540.2,173.4 L538.3,173.7 L538.9,173.0 L538.7,172.2 Z M540.2,164.3 L538.3,164.7 L538.9,164.0 L538.7,163.1 Z M546.9,339.5 L546.8,341.8 L546.1,341.0 L545.1,341.0 Z M549.0,329.9 L548.1,332.8 L547.6,331.6 L546.3,331.3 Z M551.2,320.2 L549.4,323.7 L549.1,322.1 L547.6,321.7 Z M553.4,312.5 L550.6,315.7 L550.6,314.0 L549.2,313.1 Z M555.7,304.7 L551.7,307.7 L552.2,305.8 L550.7,304.5 Z M556.3,296.1 L551.6,299.2 L552.3,297.1 L550.7,295.6 Z M557.0,287.5 L551.9,290.5 L552.7,288.4 L551.1,286.8 Z M554.8,277.6 L551.2,280.5 L551.6,278.7 L550.2,277.5 Z M552.7,267.7 L550.0,270.6 L550.1,269.0 L548.8,268.2 Z M549.5,257.7 L548.3,260.6 L547.9,259.3 L546.7,259.0 Z M546.3,247.8 L546.6,250.5 L545.8,249.7 L544.6,249.9 Z M545.5,239.0 L546.1,241.5 L545.2,240.8 L544.1,241.1 Z M544.7,230.2 L545.6,232.5 L544.7,232.0 L543.7,232.4 Z M544.9,225.3 L545.2,227.2 L544.5,226.6 L543.6,226.8 Z M545.0,220.4 L543.9,218.9 L544.8,219.1 L545.5,218.6 Z M545.7,210.7 L544.2,209.7 L545.1,209.6 L545.6,208.8 Z M546.5,201.0 L544.6,200.6 L545.4,200.2 L545.6,199.3 Z M547.2,191.6 L545.3,191.7 L546.0,191.1 L546.0,190.2 Z M547.9,182.2 L546.1,182.6 L546.6,181.9 L546.5,181.0 Z M547.9,173.1 L546.1,173.6 L546.6,172.8 L546.5,171.9 Z M547.9,164.1 L546.1,164.5 L546.6,163.8 L546.5,162.9 Z M554.4,339.7 L554.6,342.0 L553.9,341.2 L552.8,341.3 Z M556.4,330.2 L555.8,332.9 L555.3,331.8 L554.1,331.6 Z M558.4,320.6 L557.0,323.8 L556.6,322.4 L555.2,322.0 Z M560.2,311.5 L558.1,314.9 L557.9,313.3 L556.4,312.7 Z M562.1,302.4 L559.2,306.0 L559.2,304.2 L557.5,303.3 Z M562.8,293.7 L559.6,297.3 L559.7,295.4 L558.0,294.4 Z M563.6,285.0 L559.6,288.9 L559.9,286.7 L558.1,285.6 Z M561.0,275.7 L558.5,279.0 L558.4,277.3 L556.9,276.6 Z M558.4,266.3 L557.0,269.4 L556.6,268.1 L555.2,267.7 Z M555.9,256.6 L555.6,259.6 L554.9,258.6 L553.6,258.6 Z M553.3,246.9 L554.2,249.8 L553.2,249.1 L552.0,249.6 Z M553.1,238.3 L554.1,241.0 L553.0,240.3 L551.9,240.8 Z M552.9,229.7 L553.9,232.2 L552.9,231.6 L551.8,232.1 Z M553.6,225.0 L553.6,226.9 L553.0,226.2 L552.1,226.1 Z M554.2,220.2 L552.7,219.2 L553.6,219.1 L554.1,218.3 Z M554.6,210.5 L552.8,209.8 L553.7,209.5 L554.0,208.7 Z M554.9,200.8 L553.0,200.6 L553.8,200.1 L553.8,199.2 Z M555.3,191.4 L553.4,191.6 L554.0,190.9 L554.0,190.0 Z M555.7,181.9 L553.9,182.4 L554.4,181.7 L554.2,180.8 Z M555.7,172.9 L553.9,173.4 L554.4,172.6 L554.2,171.8 Z M555.7,163.8 L553.9,164.3 L554.4,163.6 L554.2,162.7 Z M562.2,340.1 L562.5,342.0 L561.8,341.4 L560.9,341.6 Z M563.8,330.5 L563.5,333.0 L562.9,332.0 L561.8,332.0 Z M565.5,321.0 L564.5,323.9 L564.1,322.7 L562.8,322.4 Z M567.5,311.5 L565.7,314.8 L565.4,313.3 L564.0,312.8 Z M569.4,302.1 L566.9,305.7 L566.8,304.0 L565.2,303.3 Z M570.0,293.0 L567.3,296.8 L567.2,294.9 L565.5,294.2 Z M570.6,284.0 L567.6,287.8 L567.6,285.9 L565.9,285.1 Z M567.9,275.3 L566.0,278.6 L565.8,277.1 L564.3,276.5 Z M565.3,266.5 L564.4,269.4 L563.9,268.2 L562.7,268.0 Z M563.3,256.7 L563.4,259.6 L562.6,258.6 L561.4,258.8 Z M561.4,246.9 L562.3,249.7 L561.2,249.0 L560.1,249.6 Z M561.3,238.3 L562.3,241.0 L561.2,240.3 L560.1,240.8 Z M561.3,229.8 L562.2,232.2 L561.2,231.6 L560.2,232.1 Z M561.6,223.6 L562.1,225.4 L561.4,224.9 L560.5,225.1 Z M562.0,217.5 L560.4,218.6 L560.7,217.7 L560.1,216.9 Z M562.6,208.8 L560.8,209.4 L561.3,208.6 L561.0,207.8 Z M563.3,200.1 L561.4,200.5 L562.0,199.8 L561.9,198.9 Z M563.6,191.0 L561.8,191.5 L562.3,190.7 L562.1,189.8 Z M563.9,181.8 L562.1,182.4 L562.6,181.6 L562.3,180.8 Z M563.9,172.7 L562.1,173.3 L562.6,172.6 L562.3,171.7 Z M563.9,163.7 L562.1,164.3 L562.6,163.5 L562.3,162.7 Z M569.9,340.5 L570.4,342.3 L569.6,341.8 L568.8,342.0 Z M571.2,330.9 L571.2,333.1 L570.6,332.3 L569.6,332.3 Z M572.6,321.4 L572.1,323.9 L571.5,322.9 L570.4,322.8 Z M574.7,311.6 L573.4,314.7 L573.0,313.3 L571.6,313.0 Z M576.8,301.8 L574.7,305.4 L574.4,303.8 L572.8,303.2 Z M577.2,292.4 L575.0,296.2 L574.7,294.5 L573.0,293.9 Z M577.6,283.0 L575.2,287.0 L575.0,285.2 L573.2,284.6 Z M574.9,274.9 L573.5,278.2 L573.1,276.8 L571.7,276.5 Z M572.2,266.8 L571.9,269.4 L571.2,268.4 L570.1,268.3 Z M570.8,256.8 L571.2,259.5 L570.3,258.7 L569.1,259.0 Z M569.4,246.9 L570.4,249.7 L569.3,249.0 L568.2,249.6 Z M569.6,238.3 L570.5,241.0 L569.4,240.3 L568.3,240.8 Z M569.7,229.8 L570.5,232.2 L569.5,231.6 L568.5,232.1 Z M569.7,222.2 L570.3,224.1 L569.5,223.6 L568.6,223.9 Z M569.7,214.7 L570.2,216.5 L569.5,216.0 L568.6,216.2 Z M570.7,207.1 L570.0,208.9 L569.7,208.0 L568.9,207.7 Z M571.7,199.5 L570.0,200.3 L570.3,199.5 L570.0,198.7 Z M571.9,190.6 L570.2,191.3 L570.6,190.5 L570.3,189.7 Z M572.2,181.7 L570.4,182.3 L570.8,181.6 L570.5,180.7 Z M572.2,172.6 L570.4,173.3 L570.8,172.5 L570.5,171.6 Z M572.2,163.6 L570.4,164.2 L570.8,163.4 L570.5,162.6 Z M577.9,340.4 L578.5,342.2 L577.7,341.8 L576.9,342.0 Z M578.7,331.0 L579.0,333.0 L578.3,332.4 L577.4,332.5 Z M579.5,321.6 L579.5,323.9 L578.8,323.1 L577.8,323.1 Z M581.4,311.9 L580.7,314.7 L580.1,313.5 L578.9,313.4 Z M583.2,302.1 L581.8,305.4 L581.4,304.0 L580.0,303.6 Z M583.7,292.5 L582.2,296.1 L581.7,294.5 L580.2,294.2 Z M584.2,282.8 L582.5,286.7 L582.1,285.1 L580.4,284.7 Z M581.9,274.8 L581.1,278.0 L580.5,276.7 L579.1,276.6 Z M579.6,266.7 L579.6,269.2 L578.9,268.3 L577.8,268.4 Z M578.4,257.3 L579.0,259.7 L578.1,259.0 L577.0,259.3 Z M577.3,247.9 L578.3,250.2 L577.3,249.7 L576.3,250.3 Z M578.1,238.9 L578.8,241.4 L577.9,240.8 L576.8,241.2 Z M578.9,230.0 L579.3,232.6 L578.4,231.8 L577.3,232.1 Z M578.9,222.2 L579.1,224.3 L578.4,223.6 L577.5,223.7 Z M578.9,214.3 L579.0,216.2 L578.4,215.5 L577.5,215.5 Z M579.4,206.5 L578.8,208.3 L578.5,207.5 L577.6,207.2 Z M579.9,198.8 L578.5,200.0 L578.7,199.1 L578.1,198.5 Z M580.3,190.2 L578.7,191.2 L579.0,190.3 L578.5,189.5 Z M580.6,181.5 L578.9,182.3 L579.3,181.5 L579.0,180.6 Z M580.6,172.5 L578.9,173.2 L579.3,172.4 L579.0,171.6 Z M580.6,163.4 L578.9,164.2 L579.3,163.4 L579.0,162.5 Z M586.0,340.4 L586.6,342.2 L585.8,341.7 L585.0,342.0 Z M586.2,331.1 L586.8,332.9 L586.0,332.5 L585.1,332.7 Z M586.4,321.9 L586.9,323.8 L586.1,323.2 L585.2,323.5 Z M588.0,312.2 L587.9,314.6 L587.3,313.7 L586.2,313.8 Z M589.6,302.4 L588.9,305.4 L588.4,304.2 L587.1,304.1 Z M590.2,292.6 L589.4,295.9 L588.8,294.6 L587.3,294.5 Z M590.8,282.7 L589.8,286.4 L589.2,285.0 L587.6,284.9 Z M588.9,274.7 L588.6,277.7 L587.9,276.7 L586.6,276.7 Z M587.0,266.6 L587.4,269.0 L586.6,268.3 L585.5,268.5 Z M586.1,257.8 L586.8,259.9 L585.9,259.4 L584.9,259.8 Z M585.2,248.9 L586.3,250.9 L585.3,250.5 L584.4,251.0 Z M586.7,239.6 L587.2,241.9 L586.3,241.2 L585.3,241.5 Z M588.1,230.3 L588.0,232.9 L587.3,232.0 L586.2,232.0 Z M588.2,222.1 L588.0,224.4 L587.4,223.6 L586.3,223.5 Z M588.2,213.9 L587.9,215.9 L587.4,215.1 L586.5,214.9 Z M588.2,206.0 L587.6,207.8 L587.3,206.9 L586.4,206.6 Z M588.2,198.0 L587.1,199.6 L587.1,198.7 L586.3,198.2 Z M588.7,189.7 L587.2,190.9 L587.4,190.0 L586.8,189.3 Z M589.1,181.4 L587.4,182.2 L587.8,181.4 L587.4,180.6 Z M589.1,172.4 L587.4,173.2 L587.8,172.4 L587.4,171.5 Z M589.1,163.3 L587.4,164.1 L587.8,163.3 L587.4,162.5 Z M593.2,340.3 L594.3,341.9 L593.4,341.6 L592.6,342.1 Z M593.9,331.1 L594.7,332.8 L593.9,332.4 L593.0,332.8 Z M594.6,321.9 L595.1,323.8 L594.4,323.2 L593.4,323.5 Z M595.3,312.8 L595.6,314.9 L594.9,314.2 L593.9,314.3 Z M596.1,303.8 L596.0,306.0 L595.4,305.2 L594.4,305.2 Z M596.7,293.8 L596.5,296.4 L595.8,295.5 L594.7,295.4 Z M597.3,283.8 L596.9,286.9 L596.2,285.8 L594.9,285.7 Z M596.0,275.3 L596.1,278.0 L595.3,277.1 L594.2,277.2 Z M594.7,266.8 L595.3,269.0 L594.5,268.4 L593.4,268.7 Z M593.9,257.9 L594.8,260.0 L593.8,259.5 L592.9,260.0 Z M593.0,248.9 L594.2,250.7 L593.2,250.5 L592.4,251.1 Z M595.0,239.8 L595.4,242.1 L594.6,241.4 L593.6,241.7 Z M597.0,230.7 L596.6,233.3 L596.0,232.3 L594.9,232.2 Z M597.0,222.3 L596.5,224.6 L596.0,223.7 L595.0,223.5 Z M597.1,213.8 L596.5,215.9 L596.0,215.0 L595.1,214.8 Z M597.3,205.9 L596.4,207.6 L596.2,206.7 L595.4,206.3 Z M597.5,197.9 L596.2,199.4 L596.3,198.4 L595.6,197.8 Z M597.7,189.4 L596.3,190.7 L596.5,189.8 L595.9,189.1 Z M598.0,181.0 L596.4,182.0 L596.7,181.1 L596.3,180.3 Z M597.9,172.0 L596.3,173.0 L596.6,172.1 L596.2,171.3 Z M597.8,163.1 L596.2,164.0 L596.5,163.2 L596.1,162.4 Z M600.5,340.2 L601.9,341.6 L601.0,341.5 L600.3,342.2 Z M601.7,331.0 L602.6,332.7 L601.8,332.4 L601.0,332.8 Z M602.8,321.9 L603.3,323.8 L602.6,323.2 L601.7,323.5 Z M602.7,313.5 L603.2,315.4 L602.5,314.8 L601.6,315.1 Z M602.6,305.2 L603.1,307.0 L602.3,306.5 L601.4,306.8 Z M603.2,295.1 L603.5,296.9 L602.9,296.3 L602.0,296.5 Z M603.9,284.9 L604.1,287.3 L603.3,286.5 L602.3,286.6 Z M603.2,275.9 L603.7,278.2 L602.8,277.5 L601.8,277.8 Z M602.5,267.0 L603.2,269.2 L602.3,268.6 L601.3,269.0 Z M601.6,258.0 L602.7,259.9 L601.7,259.5 L600.9,260.0 Z M600.7,249.0 L602.2,250.8 L601.2,250.6 L600.4,251.3 Z M603.3,240.1 L603.7,242.2 L602.9,241.6 L601.9,241.7 Z M605.9,231.1 L605.1,233.6 L604.7,232.6 L603.6,232.3 Z M605.9,222.4 L605.1,224.8 L604.7,223.8 L603.6,223.5 Z M605.9,213.7 L605.1,216.0 L604.7,215.0 L603.7,214.6 Z M606.3,205.8 L605.1,207.7 L605.0,206.7 L604.1,206.1 Z M606.7,197.8 L605.1,199.4 L605.2,198.4 L604.4,197.6 Z M606.8,189.2 L605.2,190.6 L605.3,189.6 L604.7,188.8 Z M607.0,180.5 L605.1,181.8 L605.4,180.8 L604.8,180.0 Z M606.7,171.7 L605.0,172.9 L605.3,171.9 L604.7,171.1 Z M606.5,162.9 L604.8,163.9 L605.1,163.0 L604.7,162.2 Z M608.0,340.2 L609.7,341.5 L608.7,341.5 L608.2,342.3 Z M609.6,331.1 L610.7,332.7 L609.8,332.4 L609.1,332.9 Z M611.2,321.9 L611.7,323.8 L610.9,323.3 L610.0,323.5 Z M610.9,313.7 L611.4,315.5 L610.6,315.0 L609.8,315.2 Z M610.5,305.5 L611.2,307.2 L610.4,306.8 L609.5,307.1 Z M610.4,295.3 L611.2,297.0 L610.4,296.6 L609.5,297.0 Z M610.3,285.1 L611.2,287.1 L610.3,286.7 L609.4,287.1 Z M609.5,276.1 L610.7,277.9 L609.8,277.6 L608.9,278.2 Z M608.7,267.0 L610.3,268.7 L609.2,268.6 L608.5,269.3 Z M608.6,258.1 L610.2,259.8 L609.1,259.7 L608.4,260.4 Z M608.4,249.3 L610.0,250.8 L608.9,250.7 L608.3,251.4 Z M611.6,240.2 L611.9,242.3 L611.2,241.6 L610.2,241.8 Z M614.8,231.1 L613.7,233.7 L613.4,232.5 L612.2,232.2 Z M614.8,222.6 L613.7,225.0 L613.4,223.9 L612.3,223.5 Z M614.8,214.2 L613.6,216.4 L613.4,215.3 L612.4,214.8 Z M615.1,206.0 L613.6,207.9 L613.6,206.8 L612.7,206.2 Z M615.5,197.9 L613.7,199.5 L613.9,198.4 L613.1,197.6 Z M615.6,189.2 L613.7,190.6 L613.9,189.6 L613.2,188.8 Z M615.7,180.5 L613.7,181.8 L614.0,180.8 L613.3,179.9 Z M615.5,171.7 L613.5,172.9 L613.8,171.9 L613.2,171.0 Z M615.2,162.9 L613.2,164.0 L613.6,163.0 L613.1,162.1 Z M615.6,340.3 L617.6,341.5 L616.5,341.6 L616.0,342.6 Z M617.6,331.1 L618.8,332.6 L617.9,332.4 L617.1,333.0 Z M619.6,321.9 L620.0,323.9 L619.3,323.3 L618.3,323.5 Z M619.1,313.8 L619.6,315.6 L618.8,315.1 L618.0,315.3 Z M618.5,305.7 L619.3,307.4 L618.5,307.0 L617.6,307.4 Z M617.6,295.5 L618.8,297.0 L617.9,296.8 L617.2,297.4 Z M616.8,285.4 L618.4,287.0 L617.3,286.9 L616.6,287.7 Z M615.9,276.2 L617.8,277.7 L616.7,277.7 L616.1,278.6 Z M615.0,267.0 L617.2,268.4 L616.1,268.6 L615.6,269.6 Z M615.5,258.3 L617.5,259.6 L616.4,259.7 L615.9,260.7 Z M616.0,249.5 L617.8,250.9 L616.8,250.9 L616.2,251.8 Z M619.8,240.3 L620.1,242.3 L619.4,241.7 L618.4,241.8 Z M623.7,231.1 L622.3,233.8 L622.0,232.5 L620.8,232.1 Z M623.7,222.8 L622.2,225.2 L622.0,224.0 L621.0,223.5 Z M623.7,214.6 L622.1,216.7 L622.0,215.6 L621.1,214.9 Z M624.0,206.3 L622.2,208.1 L622.3,207.0 L621.4,206.3 Z M624.3,198.0 L622.2,199.6 L622.5,198.5 L621.7,197.6 Z M624.3,189.2 L622.2,190.7 L622.5,189.6 L621.8,188.7 Z M624.4,180.4 L622.2,181.8 L622.5,180.7 L621.8,179.8 Z M624.2,171.6 L622.0,172.9 L622.4,171.8 L621.8,170.9 Z M623.9,162.8 L621.8,164.0 L622.2,163.0 L621.7,162.1 Z M623.5,340.2 L625.5,341.3 L624.5,341.5 L624.0,342.5 Z M625.8,331.1 L626.9,332.6 L626.0,332.4 L625.3,333.0 Z M628.0,322.0 L628.3,324.0 L627.6,323.3 L626.7,323.5 Z M627.0,313.9 L627.7,315.7 L626.9,315.2 L626.0,315.5 Z M626.1,305.8 L627.3,307.3 L626.4,307.1 L625.7,307.7 Z M624.7,296.2 L626.3,297.1 L625.4,297.3 L625.0,298.1 Z M623.3,286.6 L625.3,287.3 L624.4,287.7 L624.0,288.6 Z M623.1,277.0 L625.2,278.0 L624.2,278.2 L623.8,279.2 Z M622.8,267.4 L625.2,268.6 L624.0,268.8 L623.6,269.9 Z M623.1,258.5 L625.3,259.6 L624.2,259.9 L623.8,260.9 Z M623.3,249.6 L625.4,250.7 L624.4,250.9 L623.9,251.9 Z M627.6,240.3 L628.1,242.3 L627.3,241.7 L626.4,241.9 Z M631.9,231.1 L630.6,233.8 L630.3,232.5 L629.0,232.1 Z M632.0,222.8 L630.5,225.3 L630.4,224.0 L629.2,223.5 Z M632.2,214.6 L630.5,216.7 L630.4,215.5 L629.5,214.9 Z M632.4,206.3 L630.5,208.2 L630.6,207.0 L629.7,206.2 Z M632.7,197.9 L630.6,199.6 L630.8,198.4 L630.0,197.5 Z M632.7,189.1 L630.5,190.7 L630.8,189.6 L630.0,188.7 Z M632.6,180.4 L630.4,181.8 L630.8,180.7 L630.1,179.8 Z M632.4,171.6 L630.2,172.9 L630.6,171.8 L630.0,170.9 Z M632.2,162.8 L630.1,164.0 L630.5,163.0 L629.9,162.1 Z M631.4,340.2 L633.5,341.3 L632.5,341.5 L632.0,342.5 Z M633.9,331.1 L635.1,332.6 L634.2,332.4 L633.5,333.0 Z M636.4,322.1 L636.6,324.0 L636.0,323.4 L635.0,323.5 Z M635.0,314.0 L635.8,315.8 L635.0,315.4 L634.1,315.7 Z M633.7,306.0 L635.2,307.1 L634.3,307.2 L633.8,307.9 Z M631.8,296.9 L633.6,297.2 L632.9,297.7 L632.7,298.5 Z M629.9,287.7 L632.3,287.8 L631.5,288.5 L631.5,289.6 Z M630.3,277.7 L632.7,278.2 L631.7,278.8 L631.6,279.8 Z M630.7,267.7 L633.1,268.7 L632.0,269.0 L631.6,270.1 Z M630.7,258.7 L633.1,259.6 L632.0,260.0 L631.6,261.1 Z M630.7,249.6 L633.1,250.6 L632.0,250.9 L631.6,252.0 Z M635.4,240.3 L636.0,242.2 L635.2,241.7 L634.3,242.0 Z M640.1,231.1 L638.8,233.8 L638.5,232.5 L637.3,232.1 Z M640.4,222.8 L638.8,225.3 L638.7,224.0 L637.5,223.5 Z M640.6,214.6 L638.9,216.8 L638.9,215.5 L637.8,214.8 Z M640.9,206.2 L638.9,208.2 L639.0,206.9 L638.1,206.2 Z M641.2,197.8 L638.9,199.6 L639.2,198.4 L638.4,197.5 Z M641.0,189.1 L638.8,190.7 L639.1,189.5 L638.3,188.6 Z M640.8,180.4 L638.6,181.8 L639.0,180.7 L638.3,179.8 Z M640.6,171.6 L638.5,172.9 L638.8,171.8 L638.2,170.9 Z M640.4,162.8 L638.3,164.0 L638.7,163.0 L638.1,162.1 Z M639.6,340.2 L641.7,341.3 L640.7,341.5 L640.3,342.5 Z M642.1,331.1 L643.3,332.6 L642.4,332.4 L641.7,333.0 Z M644.7,322.1 L644.8,324.0 L644.2,323.4 L643.2,323.5 Z M642.9,314.0 L643.8,315.7 L643.0,315.3 L642.2,315.8 Z M641.2,306.0 L642.9,306.7 L642.0,307.0 L641.7,307.8 Z M639.5,296.9 L641.4,297.1 L640.6,297.6 L640.5,298.5 Z M637.8,287.9 L640.3,287.8 L639.5,288.6 L639.6,289.7 Z M638.0,277.9 L640.6,278.2 L639.6,278.8 L639.5,280.0 Z M638.1,267.8 L640.8,268.7 L639.7,269.1 L639.4,270.3 Z M638.4,258.8 L641.0,259.7 L639.9,260.1 L639.6,261.2 Z M638.7,249.8 L641.2,250.7 L640.1,251.1 L639.8,252.2 Z M643.6,240.3 L644.3,242.2 L643.5,241.7 L642.6,242.0 Z M648.5,230.9 L647.1,233.7 L646.8,232.4 L645.6,232.0 Z M648.8,222.7 L647.2,225.2 L647.0,223.9 L645.9,223.4 Z M649.1,214.5 L647.2,216.7 L647.2,215.4 L646.2,214.8 Z M649.2,206.1 L647.2,208.1 L647.3,206.9 L646.4,206.1 Z M649.4,197.8 L647.2,199.6 L647.4,198.4 L646.6,197.5 Z M649.2,189.1 L647.0,190.7 L647.3,189.5 L646.5,188.6 Z M649.0,180.4 L646.8,181.8 L647.2,180.7 L646.5,179.8 Z M648.8,171.6 L646.7,172.9 L647.0,171.8 L646.4,170.9 Z M648.6,162.8 L646.5,164.0 L646.9,163.0 L646.3,162.1 Z M647.8,340.2 L650.0,341.3 L648.9,341.5 L648.5,342.5 Z M650.3,331.1 L651.6,332.6 L650.6,332.4 L649.9,333.0 Z M652.9,322.1 L653.1,324.0 L652.4,323.4 L651.5,323.5 Z M650.8,314.0 L651.9,315.5 L651.0,315.3 L650.2,315.8 Z M648.7,305.9 L650.5,306.4 L649.7,306.8 L649.4,307.7 Z M647.2,297.0 L649.2,297.1 L648.5,297.6 L648.4,298.6 Z M645.7,288.0 L648.3,287.9 L647.5,288.7 L647.6,289.8 Z M645.6,278.0 L648.4,278.2 L647.4,278.9 L647.4,280.1 Z M645.6,267.9 L648.5,268.6 L647.4,269.2 L647.2,270.5 Z M646.2,259.0 L648.9,259.7 L647.8,260.2 L647.6,261.4 Z M646.7,250.0 L649.2,250.8 L648.2,251.2 L647.9,252.3 Z M651.8,240.4 L652.5,242.2 L651.7,241.7 L650.8,242.0 Z M656.9,230.7 L655.5,233.6 L655.2,232.3 L653.9,231.8 Z M657.2,222.5 L655.5,225.1 L655.4,223.8 L654.2,223.2 Z M657.5,214.3 L655.6,216.7 L655.6,215.4 L654.5,214.7 Z M657.6,206.1 L655.5,208.1 L655.6,206.9 L654.7,206.1 Z M657.6,197.8 L655.4,199.6 L655.7,198.4 L654.8,197.5 Z M657.4,189.1 L655.2,190.7 L655.5,189.5 L654.8,188.6 Z M657.2,180.4 L655.1,181.8 L655.4,180.7 L654.7,179.8 Z M657.0,171.6 L654.9,172.9 L655.3,171.8 L654.6,170.9 Z M656.8,162.8 L654.7,164.0 L655.1,163.0 L654.5,162.1 Z M656.0,340.2 L658.2,341.3 L657.1,341.5 L656.7,342.5 Z M658.6,331.1 L659.8,332.6 L658.9,332.4 L658.1,333.0 Z M661.1,322.1 L661.3,324.0 L660.6,323.4 L659.7,323.5 Z M658.7,314.0 L659.9,315.4 L659.0,315.3 L658.3,315.9 Z M656.3,305.9 L658.1,306.2 L657.4,306.7 L657.2,307.6 Z M655.0,296.9 L657.3,297.0 L656.4,297.6 L656.5,298.7 Z M653.7,287.9 L656.4,287.8 L655.5,288.6 L655.7,289.8 Z M653.7,278.1 L656.5,278.3 L655.5,279.0 L655.5,280.2 Z M653.7,268.2 L656.6,268.7 L655.5,269.4 L655.4,270.7 Z M654.3,259.1 L657.0,259.7 L655.9,260.3 L655.8,261.5 Z M655.0,250.0 L657.5,250.8 L656.4,251.2 L656.1,252.3 Z M660.1,240.4 L660.7,242.3 L659.9,241.8 L659.0,242.1 Z M665.2,230.8 L663.7,233.7 L663.4,232.4 L662.2,231.9 Z M665.5,222.6 L663.8,225.2 L663.6,223.9 L662.4,223.3 Z M665.7,214.3 L663.8,216.7 L663.8,215.4 L662.7,214.7 Z M665.8,206.1 L663.7,208.1 L663.8,206.9 L662.9,206.1 Z M665.8,197.8 L663.6,199.6 L663.9,198.4 L663.0,197.5 Z M665.6,189.1 L663.4,190.7 L663.7,189.5 L663.0,188.6 Z M665.5,180.4 L663.3,181.8 L663.6,180.7 L662.9,179.8 Z M665.2,171.6 L663.1,172.9 L663.5,171.8 L662.8,170.9 Z M665.0,162.8 L662.9,164.0 L663.3,163.0 L662.8,162.1 Z M664.2,340.2 L666.4,341.3 L665.3,341.5 L664.9,342.5 Z M666.8,331.1 L668.0,332.6 L667.1,332.4 L666.4,333.0 Z M669.3,322.1 L669.5,324.0 L668.8,323.4 L667.9,323.5 Z M666.6,314.0 L667.9,315.3 L667.0,315.2 L666.4,315.9 Z M663.9,305.9 L665.9,306.1 L665.1,306.6 L665.0,307.6 Z M662.8,296.9 L665.2,296.9 L664.3,297.6 L664.4,298.7 Z M661.7,287.8 L664.5,287.7 L663.6,288.5 L663.7,289.7 Z M661.7,278.2 L664.6,278.3 L663.6,279.0 L663.6,280.3 Z M661.7,268.5 L664.7,268.9 L663.6,269.6 L663.6,270.8 Z M662.4,259.2 L665.2,259.8 L664.1,260.4 L664.0,261.6 Z M663.2,250.0 L665.7,250.8 L664.6,251.2 L664.4,252.3 Z M668.3,240.5 L668.9,242.3 L668.2,241.8 L667.3,242.1 Z M673.5,230.9 L672.0,233.8 L671.7,232.4 L670.5,231.9 Z M673.7,222.6 L672.0,225.2 L671.9,223.9 L670.7,223.3 Z M674.0,214.3 L672.0,216.7 L672.0,215.4 L670.9,214.7 Z M674.0,206.1 L671.9,208.1 L672.1,206.9 L671.1,206.1 Z M674.0,197.8 L671.8,199.6 L672.1,198.4 L671.3,197.5 Z M673.9,189.1 L671.7,190.7 L672.0,189.5 L671.2,188.6 Z M673.7,180.4 L671.5,181.8 L671.8,180.7 L671.1,179.8 Z M673.5,171.6 L671.3,172.9 L671.7,171.8 L671.1,170.9 Z M673.2,162.8 L671.1,164.0 L671.5,163.0 L671.0,162.1 Z M672.5,340.2 L674.6,341.3 L673.6,341.5 L673.1,342.5 Z M674.9,331.1 L676.1,332.6 L675.2,332.4 L674.5,333.0 Z M677.3,322.0 L677.6,324.0 L676.9,323.3 L676.0,323.5 Z M674.4,314.1 L675.9,315.2 L675.0,315.2 L674.4,315.9 Z M671.5,306.1 L673.6,306.1 L672.9,306.8 L672.9,307.8 Z M670.5,296.9 L673.1,296.9 L672.2,297.6 L672.3,298.7 Z M669.6,287.8 L672.6,287.6 L671.6,288.5 L671.8,289.7 Z M669.7,278.2 L672.7,278.3 L671.7,279.1 L671.8,280.4 Z M669.8,268.7 L672.8,269.0 L671.7,269.7 L671.7,271.0 Z M670.5,259.5 L673.3,259.9 L672.2,260.5 L672.1,261.8 Z M671.2,250.2 L673.8,250.9 L672.7,251.3 L672.5,252.5 Z M676.5,240.6 L677.1,242.4 L676.3,241.9 L675.5,242.2 Z M681.7,230.9 L680.2,233.8 L679.9,232.4 L678.7,231.9 Z M681.9,222.6 L680.2,225.2 L680.1,223.9 L678.9,223.3 Z M682.2,214.3 L680.2,216.7 L680.2,215.4 L679.2,214.7 Z M682.2,206.1 L680.1,208.1 L680.3,206.9 L679.3,206.1 Z M682.3,197.8 L680.0,199.6 L680.3,198.4 L679.5,197.5 Z M682.1,189.1 L679.9,190.7 L680.2,189.5 L679.4,188.6 Z M681.9,180.4 L679.7,181.8 L680.1,180.7 L679.4,179.8 Z M681.7,171.6 L679.5,172.9 L679.9,171.8 L679.3,170.9 Z M681.5,162.8 L679.4,164.0 L679.8,163.0 L679.2,162.1 Z M680.7,340.2 L682.8,341.3 L681.8,341.5 L681.3,342.5 Z M683.0,331.1 L684.3,332.6 L683.4,332.4 L682.7,333.0 Z M685.4,321.9 L685.7,323.9 L685.0,323.3 L684.1,323.5 Z M682.2,314.1 L683.8,315.1 L682.9,315.2 L682.4,316.0 Z M679.0,306.3 L681.4,306.1 L680.6,306.9 L680.8,308.0 Z M678.3,297.0 L681.0,296.9 L680.2,297.7 L680.3,298.8 Z M677.6,287.7 L680.6,287.6 L679.7,288.4 L679.9,289.7 Z M677.7,278.3 L680.8,278.4 L679.8,279.2 L679.9,280.5 Z M677.9,269.0 L680.9,269.2 L679.8,269.9 L679.9,271.2 Z M678.6,259.7 L681.4,260.1 L680.3,260.7 L680.3,261.9 Z M679.3,250.4 L681.8,250.9 L680.8,251.5 L680.7,252.6 Z M684.6,240.7 L685.3,242.4 L684.5,242.0 L683.6,242.3 Z M689.9,230.9 L688.4,233.8 L688.2,232.4 L686.9,231.9 Z M690.2,222.6 L688.4,225.2 L688.3,223.9 L687.1,223.3 Z M690.4,214.3 L688.4,216.7 L688.5,215.4 L687.4,214.7 Z M690.4,206.1 L688.3,208.1 L688.5,206.9 L687.5,206.1 Z M690.5,197.8 L688.2,199.6 L688.5,198.4 L687.7,197.5 Z M690.3,189.1 L688.1,190.7 L688.4,189.5 L687.6,188.6 Z M690.1,180.4 L687.9,181.8 L688.3,180.7 L687.6,179.8 Z M689.9,171.6 L687.8,172.9 L688.1,171.8 L687.5,170.9 Z M689.7,162.8 L687.6,164.0 L688.0,163.0 L687.4,162.1 Z" fill="#000" stroke="#000" stroke-width="0.3" stroke-linejoin="round"/>
<path d="M533.0,223.0 L528.5,237.8 L521.4,243.5 L505.0,243.0 L500.5,252.0 L501.0,259.0 L503.0,265.7 L506.8,273.3 L510.7,281.6 L512.9,291.5 L513.7,300.0 L512.3,306.5 L513.6,314.0 L516.0,320.5 L520.0,315.7 L524.0,313.3 L527.3,315.7 L532.1,310.9 L538.0,310.5 L543.3,308.5 L547.0,307.0 L551.4,303.7 L552.8,298.0 L554.5,292.0 L557.9,287.9 L560.0,281.0 L560.6,275.0 L559.2,271.0 L557.8,268.7 L545.0,265.5 L535.0,258.0 L528.5,252.0 L532.0,241.4 L534.5,232.0 Z" stroke="#e3232f" stroke-width="2.8" fill="none" stroke-dasharray="9 5"/>
</g>
<rect x="388.4" y="163.3" width="295.8" height="181.1" fill="none" stroke="#231f20" stroke-width="1.6"/>
<line x1="385.4" y1="344.4" x2="388.4" y2="344.4" stroke="#231f20" stroke-width="1.3"/>
<line x1="385.4" y1="308.2" x2="388.4" y2="308.2" stroke="#231f20" stroke-width="1.3"/>
<line x1="385.4" y1="272.0" x2="388.4" y2="272.0" stroke="#231f20" stroke-width="1.3"/>
<line x1="385.4" y1="235.7" x2="388.4" y2="235.7" stroke="#231f20" stroke-width="1.3"/>
<line x1="385.4" y1="199.5" x2="388.4" y2="199.5" stroke="#231f20" stroke-width="1.3"/>
<line x1="385.4" y1="163.3" x2="388.4" y2="163.3" stroke="#231f20" stroke-width="1.3"/>
<text x="386.8" y="168.5" font-size="12.3" text-anchor="end" stroke="#231f20" stroke-width="0.2">50°N</text>
<text x="386.8" y="204.7" font-size="12.3" text-anchor="end" stroke="#231f20" stroke-width="0.2">40°N</text>
<text x="386.8" y="240.9" font-size="12.3" text-anchor="end" stroke="#231f20" stroke-width="0.2">30°N</text>
<text x="386.8" y="277.2" font-size="12.3" text-anchor="end" stroke="#231f20" stroke-width="0.2">20°N</text>
<text x="386.8" y="313.4" font-size="12.3" text-anchor="end" stroke="#231f20" stroke-width="0.2">10°N</text>
<text x="386.8" y="349.6" font-size="12.3" text-anchor="end" stroke="#231f20" stroke-width="0.2">0°</text>
<text x="421.3" y="357.5" font-size="12.3" text-anchor="middle" stroke="#231f20" stroke-width="0.2">70°E</text>
<text x="487.0" y="357.5" font-size="12.3" text-anchor="middle" stroke="#231f20" stroke-width="0.2">90°E</text>
<text x="552.7" y="357.5" font-size="12.3" text-anchor="middle" stroke="#231f20" stroke-width="0.2">110°E</text>
<text x="618.5" y="357.5" font-size="12.3" text-anchor="middle" stroke="#231f20" stroke-width="0.2">130°E</text>
<text x="538.2" y="159.3" font-size="12.3" text-anchor="middle" stroke="#231f20" stroke-width="0.2">JJA</text>
<text x="369" y="144" font-size="14.5" font-weight="bold" fill="#000" stroke="#000" stroke-width="0.2">d</text>
<path d="M511,377.4 H519" stroke="#231f20" stroke-width="1.5"/>
<path d="M527.4,377.4 L516.2,373.4 L518.8,377.4 L516.2,381.4 Z" fill="#231f20"/>
<text x="531" y="380.9" font-size="12.4" stroke="#231f20" stroke-width="0.2">20 m/s</text>
<rect x="406.0" y="222.9" width="35.2" height="13.8" fill="#fff" fill-opacity="0.62"/>
<rect x="509.8" y="196.8" width="48.3" height="13.8" fill="#fff" fill-opacity="0.62"/>
<rect x="543.0" y="180.1" width="51.3" height="13.8" fill="#fff" fill-opacity="0.62"/>
<rect x="498.3" y="222.9" width="53.5" height="13.8" fill="#fff" fill-opacity="0.62"/>
<rect x="498.0" y="243.3" width="30.4" height="13.8" fill="#fff" fill-opacity="0.62"/>
<rect x="519.3" y="255.7" width="38.3" height="13.8" fill="#fff" fill-opacity="0.62"/>
<rect x="581.5" y="233.6" width="60.0" height="13.8" fill="#fff" fill-opacity="0.62"/>
<rect x="578.0" y="250.4" width="48.2" height="13.8" fill="#fff" fill-opacity="0.62"/>
<text x="407.0" y="233.5" font-size="12.6" stroke="#231f20" stroke-width="0.2">Bittoo</text>
<text x="510.8" y="207.4" font-size="12.6" stroke="#231f20" stroke-width="0.2">Xiaotian</text>
<text x="544.0" y="190.7" font-size="12.6" stroke="#231f20" stroke-width="0.2">Xinglong</text>
<text x="499.3" y="233.5" font-size="12.6" stroke="#231f20" stroke-width="0.2">Yongxing</text>
<text x="499.0" y="253.9" font-size="12.6" stroke="#231f20" stroke-width="0.2">Wulu</text>
<text x="520.3" y="266.3" font-size="12.6" stroke="#231f20" stroke-width="0.2">Qixing</text>
<text x="582.5" y="244.2" font-size="12.6" stroke="#231f20" stroke-width="0.2">Shennong</text>
<text x="579.0" y="261.0" font-size="12.6" stroke="#231f20" stroke-width="0.2">Xianyun</text>
<path d="M446.5,224.0 L448.2,227.4 L451.9,227.9 L449.2,230.6 L449.9,234.3 L446.5,232.5 L443.1,234.3 L443.8,230.6 L441.1,227.9 L444.8,227.4 Z" fill="#e11f52"/>
<path d="M557.4,209.1 L559.1,212.5 L562.8,213.0 L560.1,215.7 L560.8,219.4 L557.4,217.7 L554.0,219.4 L554.7,215.7 L552.0,213.0 L555.7,212.5 Z" fill="#e11f52"/>
<path d="M541.5,246.5 L543.2,249.9 L546.9,250.4 L544.2,253.1 L544.9,256.8 L541.5,255.0 L538.1,256.8 L538.8,253.1 L536.1,250.4 L539.8,249.9 Z" fill="#e11f52"/>
<path d="M575.6,236.4 L577.3,239.8 L581.0,240.3 L578.3,243.0 L579.0,246.7 L575.6,244.9 L572.2,246.7 L572.9,243.0 L570.2,240.3 L573.9,239.8 Z" fill="#e11f52"/>
<circle cx="576.3" cy="198.2" r="3.7" fill="#000"/>
<circle cx="557.8" cy="232" r="3.7" fill="#000"/>
<circle cx="532.4" cy="251.3" r="3.7" fill="#000"/>
<circle cx="574.4" cy="251.5" r="3.7" fill="#000"/>
<text x="465.9" y="227.8" font-size="15.9" fill="#e3232f" stroke="#e3232f" stroke-width="0.45">TP</text>
<text x="457.2" y="260.1" font-size="15.9" fill="#e3232f" stroke="#e3232f" stroke-width="0.45">ISM</text>
<text x="631.7" y="223.8" font-size="16.1" fill="#e3232f" stroke="#e3232f" stroke-width="0.45">EASM</text>
<text x="606.8" y="294.9" font-size="16.1" fill="#e3232f" stroke="#e3232f" stroke-width="0.45">WNPSM</text>
</g>
</svg></body></html>
